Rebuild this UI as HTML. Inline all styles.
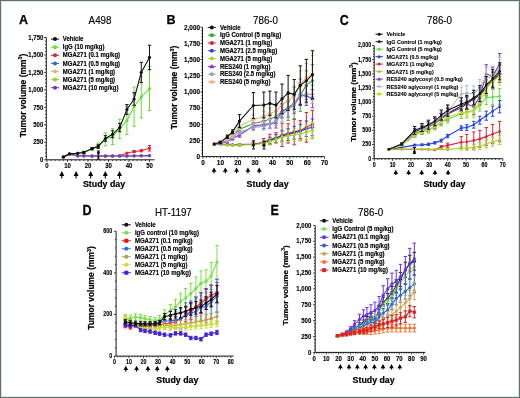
<!DOCTYPE html>
<html><head><meta charset="utf-8"><style>
html,body{margin:0;padding:0;background:#fff;width:520px;height:398px;overflow:hidden;position:relative}
text{font-family:"Liberation Sans", sans-serif}
</style></head><body>
<div style="position:absolute;left:0;top:0;width:520px;height:398px;will-change:transform">
<svg width="520" height="398" viewBox="0 0 520 398" style="position:absolute;left:0;top:0;font-family:&quot;Liberation Sans&quot;, sans-serif">
<rect x="0" y="0" width="520" height="398" fill="#fff"/>
<path d="M83.87 151.27V152.95M82.17 151.27H85.57M82.17 152.95H85.57M92.07 147.43V150.23M90.37 147.43H93.77M90.37 150.23H93.77M98.22 143.10V148.69M96.52 143.10H99.92M96.52 148.69H99.92M105.39 132.76V145.89M103.69 132.76H107.09M103.69 145.89H107.09M112.57 128.56V144.50M110.87 128.56H114.27M110.87 144.50H114.27M119.74 119.27V138.56M118.04 119.27H121.44M118.04 138.56H121.44M126.92 106.62V134.57M125.22 106.62H128.62M125.22 134.57H128.62M134.09 87.12V126.26M132.39 87.12H135.79M132.39 126.26H135.79M141.27 75.94V117.87M139.57 75.94H142.97M139.57 117.87H142.97M149.47 66.58V110.60M147.77 66.58H151.17M147.77 110.60H151.17" fill="none" stroke="#66dd33" stroke-width="1.0"/>
<polyline points="63.37,157.00 69.52,154.00 77.72,153.09 83.87,152.11 92.07,148.83 98.22,145.89 105.39,139.33 112.57,136.53 119.74,128.91 126.92,120.60 134.09,106.69 141.27,96.91 149.47,88.59" fill="none" stroke="#66dd33" stroke-width="1.1"/>
<circle cx="63.37" cy="157.00" r="1.60" fill="#66dd33"/>
<circle cx="69.52" cy="154.00" r="1.60" fill="#66dd33"/>
<circle cx="77.72" cy="153.09" r="1.60" fill="#66dd33"/>
<circle cx="83.87" cy="152.11" r="1.60" fill="#66dd33"/>
<circle cx="92.07" cy="148.83" r="1.60" fill="#66dd33"/>
<circle cx="98.22" cy="145.89" r="1.60" fill="#66dd33"/>
<circle cx="105.39" cy="139.33" r="1.60" fill="#66dd33"/>
<circle cx="112.57" cy="136.53" r="1.60" fill="#66dd33"/>
<circle cx="119.74" cy="128.91" r="1.60" fill="#66dd33"/>
<circle cx="126.92" cy="120.60" r="1.60" fill="#66dd33"/>
<circle cx="134.09" cy="106.69" r="1.60" fill="#66dd33"/>
<circle cx="141.27" cy="96.91" r="1.60" fill="#66dd33"/>
<circle cx="149.47" cy="88.59" r="1.60" fill="#66dd33"/>
<path d="M134.09 150.51V152.60M132.39 150.51H135.79M132.39 152.60H135.79M141.27 149.67V151.76M139.57 149.67H142.97M139.57 151.76H142.97M149.47 145.40V151.00M147.77 145.40H151.17M147.77 151.00H151.17" fill="none" stroke="#e02233" stroke-width="1.0"/>
<polyline points="63.37,157.00 69.52,154.21 77.72,155.82 83.87,155.82 92.07,156.03 98.22,156.03 105.39,156.03 112.57,155.96 119.74,155.47 126.92,153.16 134.09,151.55 141.27,150.72 149.47,148.20" fill="none" stroke="#e02233" stroke-width="1.1"/>
<circle cx="63.37" cy="157.00" r="1.60" fill="#e02233"/>
<circle cx="69.52" cy="154.21" r="1.60" fill="#e02233"/>
<circle cx="77.72" cy="155.82" r="1.60" fill="#e02233"/>
<circle cx="83.87" cy="155.82" r="1.60" fill="#e02233"/>
<circle cx="92.07" cy="156.03" r="1.60" fill="#e02233"/>
<circle cx="98.22" cy="156.03" r="1.60" fill="#e02233"/>
<circle cx="105.39" cy="156.03" r="1.60" fill="#e02233"/>
<circle cx="112.57" cy="155.96" r="1.60" fill="#e02233"/>
<circle cx="119.74" cy="155.47" r="1.60" fill="#e02233"/>
<circle cx="126.92" cy="153.16" r="1.60" fill="#e02233"/>
<circle cx="134.09" cy="151.55" r="1.60" fill="#e02233"/>
<circle cx="141.27" cy="150.72" r="1.60" fill="#e02233"/>
<circle cx="149.47" cy="148.20" r="1.60" fill="#e02233"/>
<polyline points="63.37,157.00 69.52,154.21 77.72,155.82 83.87,155.82 92.07,156.03 98.22,156.03 105.39,156.03 112.57,156.03 119.74,155.96 126.92,155.96 134.09,155.82 141.27,155.82 149.47,155.75" fill="none" stroke="#3366cc" stroke-width="1.1"/>
<circle cx="63.37" cy="157.00" r="1.60" fill="#3366cc"/>
<circle cx="69.52" cy="154.21" r="1.60" fill="#3366cc"/>
<circle cx="77.72" cy="155.82" r="1.60" fill="#3366cc"/>
<circle cx="83.87" cy="155.82" r="1.60" fill="#3366cc"/>
<circle cx="92.07" cy="156.03" r="1.60" fill="#3366cc"/>
<circle cx="98.22" cy="156.03" r="1.60" fill="#3366cc"/>
<circle cx="105.39" cy="156.03" r="1.60" fill="#3366cc"/>
<circle cx="112.57" cy="156.03" r="1.60" fill="#3366cc"/>
<circle cx="119.74" cy="155.96" r="1.60" fill="#3366cc"/>
<circle cx="126.92" cy="155.96" r="1.60" fill="#3366cc"/>
<circle cx="134.09" cy="155.82" r="1.60" fill="#3366cc"/>
<circle cx="141.27" cy="155.82" r="1.60" fill="#3366cc"/>
<circle cx="149.47" cy="155.75" r="1.60" fill="#3366cc"/>
<polyline points="63.37,157.00 69.52,154.21 77.72,155.82 83.87,155.82 92.07,156.03 98.22,156.03 105.39,156.03 112.57,156.03 119.74,155.96 126.92,155.96 134.09,155.82 141.27,155.82 149.47,155.75" fill="none" stroke="#f0b070" stroke-width="1.1"/>
<circle cx="63.37" cy="157.00" r="1.60" fill="#f0b070"/>
<circle cx="69.52" cy="154.21" r="1.60" fill="#f0b070"/>
<circle cx="77.72" cy="155.82" r="1.60" fill="#f0b070"/>
<circle cx="83.87" cy="155.82" r="1.60" fill="#f0b070"/>
<circle cx="92.07" cy="156.03" r="1.60" fill="#f0b070"/>
<circle cx="98.22" cy="156.03" r="1.60" fill="#f0b070"/>
<circle cx="105.39" cy="156.03" r="1.60" fill="#f0b070"/>
<circle cx="112.57" cy="156.03" r="1.60" fill="#f0b070"/>
<circle cx="119.74" cy="155.96" r="1.60" fill="#f0b070"/>
<circle cx="126.92" cy="155.96" r="1.60" fill="#f0b070"/>
<circle cx="134.09" cy="155.82" r="1.60" fill="#f0b070"/>
<circle cx="141.27" cy="155.82" r="1.60" fill="#f0b070"/>
<circle cx="149.47" cy="155.75" r="1.60" fill="#f0b070"/>
<polyline points="63.37,157.00 69.52,154.21 77.72,155.82 83.87,155.82 92.07,156.03 98.22,156.03 105.39,156.03 112.57,156.03 119.74,155.96 126.92,155.96 134.09,155.82 141.27,155.82 149.47,155.75" fill="none" stroke="#99cc33" stroke-width="1.1"/>
<circle cx="63.37" cy="157.00" r="1.60" fill="#99cc33"/>
<circle cx="69.52" cy="154.21" r="1.60" fill="#99cc33"/>
<circle cx="77.72" cy="155.82" r="1.60" fill="#99cc33"/>
<circle cx="83.87" cy="155.82" r="1.60" fill="#99cc33"/>
<circle cx="92.07" cy="156.03" r="1.60" fill="#99cc33"/>
<circle cx="98.22" cy="156.03" r="1.60" fill="#99cc33"/>
<circle cx="105.39" cy="156.03" r="1.60" fill="#99cc33"/>
<circle cx="112.57" cy="156.03" r="1.60" fill="#99cc33"/>
<circle cx="119.74" cy="155.96" r="1.60" fill="#99cc33"/>
<circle cx="126.92" cy="155.96" r="1.60" fill="#99cc33"/>
<circle cx="134.09" cy="155.82" r="1.60" fill="#99cc33"/>
<circle cx="141.27" cy="155.82" r="1.60" fill="#99cc33"/>
<circle cx="149.47" cy="155.75" r="1.60" fill="#99cc33"/>
<polyline points="63.37,156.93 69.52,154.00 77.72,155.82 83.87,155.82 92.07,156.03 98.22,156.03 105.39,156.03 112.57,156.03 119.74,155.96 126.92,155.96 134.09,155.75 141.27,155.75 149.47,155.61" fill="none" stroke="#7733cc" stroke-width="1.1"/>
<circle cx="63.37" cy="156.93" r="1.60" fill="#7733cc"/>
<circle cx="69.52" cy="154.00" r="1.60" fill="#7733cc"/>
<circle cx="77.72" cy="155.82" r="1.60" fill="#7733cc"/>
<circle cx="83.87" cy="155.82" r="1.60" fill="#7733cc"/>
<circle cx="92.07" cy="156.03" r="1.60" fill="#7733cc"/>
<circle cx="98.22" cy="156.03" r="1.60" fill="#7733cc"/>
<circle cx="105.39" cy="156.03" r="1.60" fill="#7733cc"/>
<circle cx="112.57" cy="156.03" r="1.60" fill="#7733cc"/>
<circle cx="119.74" cy="155.96" r="1.60" fill="#7733cc"/>
<circle cx="126.92" cy="155.96" r="1.60" fill="#7733cc"/>
<circle cx="134.09" cy="155.75" r="1.60" fill="#7733cc"/>
<circle cx="141.27" cy="155.75" r="1.60" fill="#7733cc"/>
<circle cx="149.47" cy="155.61" r="1.60" fill="#7733cc"/>
<path d="M83.87 151.62V153.30M82.17 151.62H85.57M82.17 153.30H85.57M92.07 147.57V149.67M90.37 147.57H93.77M90.37 149.67H93.77M98.22 144.78V148.27M96.52 144.78H99.92M96.52 148.27H99.92M105.39 135.69V141.28M103.69 135.69H107.09M103.69 141.28H107.09M112.57 130.80V137.79M110.87 130.80H114.27M110.87 137.79H114.27M119.74 123.32V131.71M118.04 123.32H121.44M118.04 131.71H121.44M126.92 104.59V114.38M125.22 104.59H128.62M125.22 114.38H128.62M134.09 92.72V105.29M132.39 92.72H135.79M132.39 105.29H135.79M141.27 62.32V82.58M139.57 62.32H142.97M139.57 82.58H142.97M149.47 45.20V69.65M147.77 45.20H151.17M147.77 69.65H151.17" fill="none" stroke="#111111" stroke-width="1.0"/>
<polyline points="63.37,157.00 69.52,153.86 77.72,153.37 83.87,152.46 92.07,148.62 98.22,146.52 105.39,138.49 112.57,134.29 119.74,127.52 126.92,109.49 134.09,99.00 141.27,72.45 149.47,57.43" fill="none" stroke="#111111" stroke-width="1.1"/>
<circle cx="63.37" cy="157.00" r="1.60" fill="#111111"/>
<circle cx="69.52" cy="153.86" r="1.60" fill="#111111"/>
<circle cx="77.72" cy="153.37" r="1.60" fill="#111111"/>
<circle cx="83.87" cy="152.46" r="1.60" fill="#111111"/>
<circle cx="92.07" cy="148.62" r="1.60" fill="#111111"/>
<circle cx="98.22" cy="146.52" r="1.60" fill="#111111"/>
<circle cx="105.39" cy="138.49" r="1.60" fill="#111111"/>
<circle cx="112.57" cy="134.29" r="1.60" fill="#111111"/>
<circle cx="119.74" cy="127.52" r="1.60" fill="#111111"/>
<circle cx="126.92" cy="109.49" r="1.60" fill="#111111"/>
<circle cx="134.09" cy="99.00" r="1.60" fill="#111111"/>
<circle cx="141.27" cy="72.45" r="1.60" fill="#111111"/>
<circle cx="149.47" cy="57.43" r="1.60" fill="#111111"/>
<path d="M46.30 37.51V159.80H154.59" fill="none" stroke="#000" stroke-width="0.9"/>
<text transform="translate(43.30 161.96) scale(0.8929 1)" font-size="6.720" font-weight="bold" text-anchor="end" fill="#000" stroke="#000" stroke-width="0.12" >0</text>
<text transform="translate(43.30 144.49) scale(0.8929 1)" font-size="6.720" font-weight="bold" text-anchor="end" fill="#000" stroke="#000" stroke-width="0.12" >250</text>
<text transform="translate(43.30 127.02) scale(0.8929 1)" font-size="6.720" font-weight="bold" text-anchor="end" fill="#000" stroke="#000" stroke-width="0.12" >500</text>
<text transform="translate(43.30 109.55) scale(0.8929 1)" font-size="6.720" font-weight="bold" text-anchor="end" fill="#000" stroke="#000" stroke-width="0.12" >750</text>
<text transform="translate(43.30 92.08) scale(0.8929 1)" font-size="6.720" font-weight="bold" text-anchor="end" fill="#000" stroke="#000" stroke-width="0.12" >1,000</text>
<text transform="translate(43.30 74.61) scale(0.8929 1)" font-size="6.720" font-weight="bold" text-anchor="end" fill="#000" stroke="#000" stroke-width="0.12" >1,250</text>
<text transform="translate(43.30 57.14) scale(0.8929 1)" font-size="6.720" font-weight="bold" text-anchor="end" fill="#000" stroke="#000" stroke-width="0.12" >1,500</text>
<text transform="translate(43.30 39.67) scale(0.8929 1)" font-size="6.720" font-weight="bold" text-anchor="end" fill="#000" stroke="#000" stroke-width="0.12" >1,750</text>
<text transform="translate(46.97 168.26) scale(0.8929 1)" font-size="6.720" font-weight="bold" text-anchor="middle" fill="#000" stroke="#000" stroke-width="0.12" >0</text>
<text transform="translate(67.47 168.26) scale(0.8929 1)" font-size="6.720" font-weight="bold" text-anchor="middle" fill="#000" stroke="#000" stroke-width="0.12" >10</text>
<text transform="translate(87.97 168.26) scale(0.8929 1)" font-size="6.720" font-weight="bold" text-anchor="middle" fill="#000" stroke="#000" stroke-width="0.12" >20</text>
<text transform="translate(108.47 168.26) scale(0.8929 1)" font-size="6.720" font-weight="bold" text-anchor="middle" fill="#000" stroke="#000" stroke-width="0.12" >30</text>
<text transform="translate(128.97 168.26) scale(0.8929 1)" font-size="6.720" font-weight="bold" text-anchor="middle" fill="#000" stroke="#000" stroke-width="0.12" >40</text>
<text transform="translate(149.47 168.26) scale(0.8929 1)" font-size="6.720" font-weight="bold" text-anchor="middle" fill="#000" stroke="#000" stroke-width="0.12" >50</text>
<path d="M44.10 159.80H46.30 M45.10 156.31H46.30 M45.10 152.81H46.30 M45.10 149.32H46.30 M45.10 145.82H46.30 M44.10 142.33H46.30 M45.10 138.84H46.30 M45.10 135.34H46.30 M45.10 131.85H46.30 M45.10 128.35H46.30 M44.10 124.86H46.30 M45.10 121.37H46.30 M45.10 117.87H46.30 M45.10 114.38H46.30 M45.10 110.88H46.30 M44.10 107.39H46.30 M45.10 103.90H46.30 M45.10 100.40H46.30 M45.10 96.91H46.30 M45.10 93.41H46.30 M44.10 89.92H46.30 M45.10 86.43H46.30 M45.10 82.93H46.30 M45.10 79.44H46.30 M45.10 75.94H46.30 M44.10 72.45H46.30 M45.10 68.96H46.30 M45.10 65.46H46.30 M45.10 61.97H46.30 M45.10 58.47H46.30 M44.10 54.98H46.30 M45.10 51.49H46.30 M45.10 47.99H46.30 M45.10 44.50H46.30 M45.10 41.00H46.30 M44.10 37.51H46.30 M46.97 159.80V162.00 M51.07 159.80V161.00 M55.17 159.80V161.00 M59.27 159.80V161.00 M63.37 159.80V161.00 M67.47 159.80V162.00 M71.57 159.80V161.00 M75.67 159.80V161.00 M79.77 159.80V161.00 M83.87 159.80V161.00 M87.97 159.80V162.00 M92.07 159.80V161.00 M96.17 159.80V161.00 M100.27 159.80V161.00 M104.37 159.80V161.00 M108.47 159.80V162.00 M112.57 159.80V161.00 M116.67 159.80V161.00 M120.77 159.80V161.00 M124.87 159.80V161.00 M128.97 159.80V162.00 M133.07 159.80V161.00 M137.17 159.80V161.00 M141.27 159.80V161.00 M145.37 159.80V161.00 M149.47 159.80V162.00" fill="none" stroke="#000" stroke-width="0.7"/>
<text x="19.00" y="24.40" font-size="12.5" font-weight="bold" text-anchor="start" fill="#000" stroke="#000" stroke-width="0.25" >A</text>
<text transform="translate(88.60 23.70) scale(0.8696 1)" font-size="11.270" font-weight="normal" text-anchor="start" fill="#000" stroke="#000" stroke-width="0.15" >A498</text>
<text transform="translate(25.54 95.50) rotate(-90)" font-size="8.45" font-weight="bold" text-anchor="middle" stroke="#000" stroke-width="0.2">Tumor volume (mm<tspan font-size="5.24" dy="-3.21">3</tspan><tspan dy="3.21">)</tspan></text>
<text x="83.00" y="186.60" font-size="8.8" font-weight="bold" text-anchor="start" fill="#000" stroke="#000" stroke-width="0.2" >Study day</text>
<path d="M59.30 176.00L61.80 171.10L64.30 176.00Z" fill="#000"/>
<path d="M61.80 175.50V178.60" stroke="#000" stroke-width="1.1"/>
<path d="M73.60 176.00L76.10 171.10L78.60 176.00Z" fill="#000"/>
<path d="M76.10 175.50V178.60" stroke="#000" stroke-width="1.1"/>
<path d="M88.20 176.00L90.70 171.10L93.20 176.00Z" fill="#000"/>
<path d="M90.70 175.50V178.60" stroke="#000" stroke-width="1.1"/>
<path d="M102.80 176.00L105.30 171.10L107.80 176.00Z" fill="#000"/>
<path d="M105.30 175.50V178.60" stroke="#000" stroke-width="1.1"/>
<path d="M117.00 176.00L119.50 171.10L122.00 176.00Z" fill="#000"/>
<path d="M119.50 175.50V178.60" stroke="#000" stroke-width="1.1"/>
<path d="M51.00 39.10H59.00" stroke="#111111" stroke-width="1"/>
<circle cx="55.00" cy="39.10" r="2.00" fill="#111111"/>
<text transform="translate(62.80 41.26) scale(0.9434 1)" font-size="6.360" font-weight="bold" text-anchor="start" fill="#000" stroke="#000" stroke-width="0.15" >Vehicle</text>
<path d="M51.00 47.20H59.00" stroke="#66dd33" stroke-width="1"/>
<circle cx="55.00" cy="47.20" r="2.00" fill="#66dd33"/>
<text transform="translate(62.80 49.36) scale(0.9434 1)" font-size="6.360" font-weight="bold" text-anchor="start" fill="#000" stroke="#000" stroke-width="0.15" >IgG (10 mg/kg)</text>
<path d="M51.00 55.30H59.00" stroke="#e02233" stroke-width="1"/>
<circle cx="55.00" cy="55.30" r="2.00" fill="#e02233"/>
<text transform="translate(62.80 57.46) scale(0.9434 1)" font-size="6.360" font-weight="bold" text-anchor="start" fill="#000" stroke="#000" stroke-width="0.15" >MGA271 (0.1 mg/kg)</text>
<path d="M51.00 63.40H59.00" stroke="#3366cc" stroke-width="1"/>
<circle cx="55.00" cy="63.40" r="2.00" fill="#3366cc"/>
<text transform="translate(62.80 65.56) scale(0.9434 1)" font-size="6.360" font-weight="bold" text-anchor="start" fill="#000" stroke="#000" stroke-width="0.15" >MGA271 (0.5 mg/kg)</text>
<path d="M51.00 71.50H59.00" stroke="#f0b070" stroke-width="1"/>
<circle cx="55.00" cy="71.50" r="2.00" fill="#f0b070"/>
<text transform="translate(62.80 73.66) scale(0.9434 1)" font-size="6.360" font-weight="bold" text-anchor="start" fill="#000" stroke="#000" stroke-width="0.15" >MGA271 (1 mg/kg)</text>
<path d="M51.00 79.60H59.00" stroke="#99cc33" stroke-width="1"/>
<circle cx="55.00" cy="79.60" r="2.00" fill="#99cc33"/>
<text transform="translate(62.80 81.76) scale(0.9434 1)" font-size="6.360" font-weight="bold" text-anchor="start" fill="#000" stroke="#000" stroke-width="0.15" >MGA271 (5 mg/kg)</text>
<path d="M51.00 87.70H59.00" stroke="#7733cc" stroke-width="1"/>
<circle cx="55.00" cy="87.70" r="2.00" fill="#7733cc"/>
<text transform="translate(62.80 89.86) scale(0.9434 1)" font-size="6.360" font-weight="bold" text-anchor="start" fill="#000" stroke="#000" stroke-width="0.15" >MGA271 (10 mg/kg)</text>
<path d="M220.37 142.37V144.31M218.67 142.37H222.07M218.67 144.31H222.07M227.32 139.13V141.72M225.62 139.13H229.02M225.62 141.72H229.02M232.53 133.31V137.19M230.83 133.31H234.23M230.83 137.19H234.23M239.48 126.71V131.88M237.78 126.71H241.18M237.78 131.88H241.18M253.37 119.72V127.48M251.67 119.72H255.07M251.67 127.48H255.07M263.80 117.39V125.16M262.10 117.39H265.50M262.10 125.16H265.50M269.87 114.54V123.60M268.17 114.54H271.57M268.17 123.60H271.57M275.95 111.63V121.99M274.25 111.63H277.65M274.25 121.99H277.65M282.03 104.84V117.78M280.33 104.84H283.73M280.33 117.78H283.73M288.11 94.49V120.37M286.41 94.49H289.81M286.41 120.37H289.81M294.19 87.11V119.46M292.49 87.11H295.89M292.49 119.46H295.89M300.27 78.96V111.31M298.57 78.96H301.97M298.57 111.31H301.97M306.35 70.94V99.41M304.65 70.94H308.05M304.65 99.41H308.05M312.43 64.60V96.95M310.73 64.60H314.13M310.73 96.95H314.13" fill="none" stroke="#33aa33" stroke-width="1.0"/>
<polyline points="214.29,143.98 220.37,143.34 227.32,140.42 232.53,135.25 239.48,129.30 253.37,123.60 263.80,121.27 269.87,119.07 275.95,116.81 282.03,111.31 288.11,107.43 294.19,103.29 300.27,95.13 306.35,85.17 312.43,80.77" fill="none" stroke="#33aa33" stroke-width="1.1"/>
<circle cx="214.29" cy="143.98" r="1.60" fill="#33aa33"/>
<circle cx="220.37" cy="143.34" r="1.60" fill="#33aa33"/>
<circle cx="227.32" cy="140.42" r="1.60" fill="#33aa33"/>
<circle cx="232.53" cy="135.25" r="1.60" fill="#33aa33"/>
<circle cx="239.48" cy="129.30" r="1.60" fill="#33aa33"/>
<circle cx="253.37" cy="123.60" r="1.60" fill="#33aa33"/>
<circle cx="263.80" cy="121.27" r="1.60" fill="#33aa33"/>
<circle cx="269.87" cy="119.07" r="1.60" fill="#33aa33"/>
<circle cx="275.95" cy="116.81" r="1.60" fill="#33aa33"/>
<circle cx="282.03" cy="111.31" r="1.60" fill="#33aa33"/>
<circle cx="288.11" cy="107.43" r="1.60" fill="#33aa33"/>
<circle cx="294.19" cy="103.29" r="1.60" fill="#33aa33"/>
<circle cx="300.27" cy="95.13" r="1.60" fill="#33aa33"/>
<circle cx="306.35" cy="85.17" r="1.60" fill="#33aa33"/>
<circle cx="312.43" cy="80.77" r="1.60" fill="#33aa33"/>
<path d="M239.48 143.66V145.60M237.78 143.66H241.18M237.78 145.60H241.18M253.37 142.04V145.92M251.67 142.04H255.07M251.67 145.92H255.07M263.80 138.55V146.31M262.10 138.55H265.50M262.10 146.31H265.50M269.87 134.21V144.57M268.17 134.21H271.57M268.17 144.57H271.57M275.95 132.73V143.08M274.25 132.73H277.65M274.25 143.08H277.65M282.03 123.28V146.57M280.33 123.28H283.73M280.33 146.57H283.73M288.11 123.67V143.08M286.41 123.67H289.81M286.41 143.08H289.81M294.19 118.94V144.82M292.49 118.94H295.89M292.49 144.82H295.89M300.27 120.69V140.10M298.57 120.69H301.97M298.57 140.10H301.97M306.35 112.47V142.24M304.65 112.47H308.05M304.65 142.24H308.05M312.43 110.34V138.29M310.73 110.34H314.13M310.73 138.29H314.13" fill="none" stroke="#dd2222" stroke-width="1.0"/>
<polyline points="214.29,143.98 220.37,144.31 227.32,144.63 232.53,144.82 239.48,144.63 253.37,143.98 263.80,142.43 269.87,139.39 275.95,137.90 282.03,134.93 288.11,133.37 294.19,131.88 300.27,130.40 306.35,127.36 312.43,124.31" fill="none" stroke="#dd2222" stroke-width="1.1"/>
<circle cx="214.29" cy="143.98" r="1.60" fill="#dd2222"/>
<circle cx="220.37" cy="144.31" r="1.60" fill="#dd2222"/>
<circle cx="227.32" cy="144.63" r="1.60" fill="#dd2222"/>
<circle cx="232.53" cy="144.82" r="1.60" fill="#dd2222"/>
<circle cx="239.48" cy="144.63" r="1.60" fill="#dd2222"/>
<circle cx="253.37" cy="143.98" r="1.60" fill="#dd2222"/>
<circle cx="263.80" cy="142.43" r="1.60" fill="#dd2222"/>
<circle cx="269.87" cy="139.39" r="1.60" fill="#dd2222"/>
<circle cx="275.95" cy="137.90" r="1.60" fill="#dd2222"/>
<circle cx="282.03" cy="134.93" r="1.60" fill="#dd2222"/>
<circle cx="288.11" cy="133.37" r="1.60" fill="#dd2222"/>
<circle cx="294.19" cy="131.88" r="1.60" fill="#dd2222"/>
<circle cx="300.27" cy="130.40" r="1.60" fill="#dd2222"/>
<circle cx="306.35" cy="127.36" r="1.60" fill="#dd2222"/>
<circle cx="312.43" cy="124.31" r="1.60" fill="#dd2222"/>
<path d="M239.48 143.85V145.80M237.78 143.85H241.18M237.78 145.80H241.18M253.37 142.69V145.92M251.67 142.69H255.07M251.67 145.92H255.07M263.80 140.43V145.60M262.10 140.43H265.50M262.10 145.60H265.50M269.87 137.19V143.66M268.17 137.19H271.57M268.17 143.66H271.57M275.95 134.60V142.37M274.25 134.60H277.65M274.25 142.37H277.65M282.03 130.72V141.07M280.33 130.72H283.73M280.33 141.07H283.73M288.11 128.78V140.43M286.41 128.78H289.81M286.41 140.43H289.81M294.19 126.19V139.13M292.49 126.19H295.89M292.49 139.13H295.89M300.27 124.25V138.48M298.57 124.25H301.97M298.57 138.48H301.97M306.35 121.02V136.54M304.65 121.02H308.05M304.65 136.54H308.05M312.43 118.94V135.77M310.73 118.94H314.13M310.73 135.77H314.13" fill="none" stroke="#3344dd" stroke-width="1.0"/>
<polyline points="214.29,143.98 220.37,144.44 227.32,144.82 232.53,144.95 239.48,144.82 253.37,144.31 263.80,143.01 269.87,140.42 275.95,138.48 282.03,135.90 288.11,134.60 294.19,132.66 300.27,131.37 306.35,128.78 312.43,127.36" fill="none" stroke="#3344dd" stroke-width="1.1"/>
<circle cx="214.29" cy="143.98" r="1.60" fill="#3344dd"/>
<circle cx="220.37" cy="144.44" r="1.60" fill="#3344dd"/>
<circle cx="227.32" cy="144.82" r="1.60" fill="#3344dd"/>
<circle cx="232.53" cy="144.95" r="1.60" fill="#3344dd"/>
<circle cx="239.48" cy="144.82" r="1.60" fill="#3344dd"/>
<circle cx="253.37" cy="144.31" r="1.60" fill="#3344dd"/>
<circle cx="263.80" cy="143.01" r="1.60" fill="#3344dd"/>
<circle cx="269.87" cy="140.42" r="1.60" fill="#3344dd"/>
<circle cx="275.95" cy="138.48" r="1.60" fill="#3344dd"/>
<circle cx="282.03" cy="135.90" r="1.60" fill="#3344dd"/>
<circle cx="288.11" cy="134.60" r="1.60" fill="#3344dd"/>
<circle cx="294.19" cy="132.66" r="1.60" fill="#3344dd"/>
<circle cx="300.27" cy="131.37" r="1.60" fill="#3344dd"/>
<circle cx="306.35" cy="128.78" r="1.60" fill="#3344dd"/>
<circle cx="312.43" cy="127.36" r="1.60" fill="#3344dd"/>
<path d="M239.48 143.98V145.92M237.78 143.98H241.18M237.78 145.92H241.18M253.37 143.01V146.25M251.67 143.01H255.07M251.67 146.25H255.07M263.80 141.07V146.25M262.10 141.07H265.50M262.10 146.25H265.50M269.87 138.48V144.95M268.17 138.48H271.57M268.17 144.95H271.57M275.95 135.90V143.66M274.25 135.90H277.65M274.25 143.66H277.65M282.03 132.01V142.37M280.33 132.01H283.73M280.33 142.37H283.73M288.11 130.07V141.72M286.41 130.07H289.81M286.41 141.72H289.81M294.19 128.52V141.46M292.49 128.52H295.89M292.49 141.46H295.89M300.27 126.84V141.07M298.57 126.84H301.97M298.57 141.07H301.97M306.35 124.25V139.78M304.65 124.25H308.05M304.65 139.78H308.05M312.43 121.92V138.74M310.73 121.92H314.13M310.73 138.74H314.13" fill="none" stroke="#aad422" stroke-width="1.0"/>
<polyline points="214.29,143.98 220.37,144.63 227.32,144.95 232.53,145.08 239.48,144.95 253.37,144.63 263.80,143.66 269.87,141.72 275.95,139.78 282.03,137.19 288.11,135.90 294.19,134.99 300.27,133.95 306.35,132.01 312.43,130.33" fill="none" stroke="#aad422" stroke-width="1.1"/>
<circle cx="214.29" cy="143.98" r="1.60" fill="#aad422"/>
<circle cx="220.37" cy="144.63" r="1.60" fill="#aad422"/>
<circle cx="227.32" cy="144.95" r="1.60" fill="#aad422"/>
<circle cx="232.53" cy="145.08" r="1.60" fill="#aad422"/>
<circle cx="239.48" cy="144.95" r="1.60" fill="#aad422"/>
<circle cx="253.37" cy="144.63" r="1.60" fill="#aad422"/>
<circle cx="263.80" cy="143.66" r="1.60" fill="#aad422"/>
<circle cx="269.87" cy="141.72" r="1.60" fill="#aad422"/>
<circle cx="275.95" cy="139.78" r="1.60" fill="#aad422"/>
<circle cx="282.03" cy="137.19" r="1.60" fill="#aad422"/>
<circle cx="288.11" cy="135.90" r="1.60" fill="#aad422"/>
<circle cx="294.19" cy="134.99" r="1.60" fill="#aad422"/>
<circle cx="300.27" cy="133.95" r="1.60" fill="#aad422"/>
<circle cx="306.35" cy="132.01" r="1.60" fill="#aad422"/>
<circle cx="312.43" cy="130.33" r="1.60" fill="#aad422"/>
<path d="M220.37 142.37V144.31M218.67 142.37H222.07M218.67 144.31H222.07M227.32 140.42V143.01M225.62 140.42H229.02M225.62 143.01H229.02M232.53 136.87V140.10M230.83 136.87H234.23M230.83 140.10H234.23M239.48 132.73V137.25M237.78 132.73H241.18M237.78 137.25H241.18M253.37 122.76V129.23M251.67 122.76H255.07M251.67 129.23H255.07M263.80 120.63V128.39M262.10 120.63H265.50M262.10 128.39H265.50M269.87 119.07V128.13M268.17 119.07H271.57M268.17 128.13H271.57M275.95 117.65V128.00M274.25 117.65H277.65M274.25 128.00H277.65M282.03 103.68V117.91M280.33 103.68H283.73M280.33 117.91H283.73M288.11 101.54V117.07M286.41 101.54H289.81M286.41 117.07H289.81M294.19 96.43V113.25M292.49 96.43H295.89M292.49 113.25H295.89M300.27 86.01V105.42M298.57 86.01H301.97M298.57 105.42H301.97M306.35 86.01V105.42M304.65 86.01H308.05M304.65 105.42H308.05M312.43 89.64V107.75M310.73 89.64H314.13M310.73 107.75H314.13" fill="none" stroke="#8833dd" stroke-width="1.0"/>
<polyline points="214.29,143.98 220.37,143.34 227.32,141.72 232.53,138.48 239.48,134.99 253.37,126.00 263.80,124.51 269.87,123.60 275.95,122.83 282.03,110.79 288.11,109.30 294.19,104.84 300.27,95.72 306.35,95.72 312.43,98.69" fill="none" stroke="#8833dd" stroke-width="1.1"/>
<path d="M212.13 145.50L214.29 142.14L216.45 145.50Z" fill="#8833dd"/>
<path d="M218.21 144.86L220.37 141.50L222.53 144.86Z" fill="#8833dd"/>
<path d="M225.16 143.24L227.32 139.88L229.48 143.24Z" fill="#8833dd"/>
<path d="M230.37 140.00L232.53 136.64L234.69 140.00Z" fill="#8833dd"/>
<path d="M237.32 136.51L239.48 133.15L241.64 136.51Z" fill="#8833dd"/>
<path d="M251.21 127.52L253.37 124.16L255.53 127.52Z" fill="#8833dd"/>
<path d="M261.63 126.03L263.80 122.67L265.96 126.03Z" fill="#8833dd"/>
<path d="M267.71 125.12L269.87 121.76L272.03 125.12Z" fill="#8833dd"/>
<path d="M273.79 124.35L275.95 120.99L278.11 124.35Z" fill="#8833dd"/>
<path d="M279.87 112.31L282.03 108.95L284.19 112.31Z" fill="#8833dd"/>
<path d="M285.95 110.82L288.11 107.46L290.27 110.82Z" fill="#8833dd"/>
<path d="M292.03 106.36L294.19 103.00L296.35 106.36Z" fill="#8833dd"/>
<path d="M298.11 97.24L300.27 93.88L302.43 97.24Z" fill="#8833dd"/>
<path d="M304.19 97.24L306.35 93.88L308.51 97.24Z" fill="#8833dd"/>
<path d="M310.27 100.21L312.43 96.85L314.59 100.21Z" fill="#8833dd"/>
<path d="M220.37 142.04V143.98M218.67 142.04H222.07M218.67 143.98H222.07M227.32 139.45V142.04M225.62 139.45H229.02M225.62 142.04H229.02M232.53 135.57V138.81M230.83 135.57H234.23M230.83 138.81H234.23M239.48 129.75V134.28M237.78 129.75H241.18M237.78 134.28H241.18M253.37 124.25V130.72M251.67 124.25H255.07M251.67 130.72H255.07M263.80 122.31V130.07M262.10 122.31H265.50M262.10 130.07H265.50M269.87 119.72V128.78M268.17 119.72H271.57M268.17 128.78H271.57M275.95 115.19V125.54M274.25 115.19H277.65M274.25 125.54H277.65M282.03 107.43V121.66M280.33 107.43H283.73M280.33 121.66H283.73M288.11 102.25V117.78M286.41 102.25H289.81M286.41 117.78H289.81M294.19 94.88V111.70M292.49 94.88H295.89M292.49 111.70H295.89M300.27 84.52V103.93M298.57 84.52H301.97M298.57 103.93H301.97M306.35 84.52V103.93M304.65 84.52H308.05M304.65 103.93H308.05M312.43 85.17V103.29M310.73 85.17H314.13M310.73 103.29H314.13" fill="none" stroke="#90a2c6" stroke-width="1.0"/>
<polyline points="214.29,143.98 220.37,143.01 227.32,140.75 232.53,137.19 239.48,132.01 253.37,127.48 263.80,126.19 269.87,124.25 275.95,120.37 282.03,114.54 288.11,110.02 294.19,103.29 300.27,94.23 306.35,94.23 312.43,94.23" fill="none" stroke="#90a2c6" stroke-width="1.1"/>
<path d="M211.89 143.98L214.29 142.22L216.69 143.98L214.29 145.74Z" fill="#90a2c6"/>
<path d="M217.97 143.01L220.37 141.25L222.77 143.01L220.37 144.77Z" fill="#90a2c6"/>
<path d="M224.92 140.75L227.32 138.99L229.72 140.75L227.32 142.51Z" fill="#90a2c6"/>
<path d="M230.13 137.19L232.53 135.43L234.93 137.19L232.53 138.95Z" fill="#90a2c6"/>
<path d="M237.08 132.01L239.48 130.25L241.88 132.01L239.48 133.77Z" fill="#90a2c6"/>
<path d="M250.97 127.48L253.37 125.72L255.77 127.48L253.37 129.24Z" fill="#90a2c6"/>
<path d="M261.40 126.19L263.80 124.43L266.19 126.19L263.80 127.95Z" fill="#90a2c6"/>
<path d="M267.47 124.25L269.87 122.49L272.27 124.25L269.87 126.01Z" fill="#90a2c6"/>
<path d="M273.55 120.37L275.95 118.61L278.35 120.37L275.95 122.13Z" fill="#90a2c6"/>
<path d="M279.63 114.54L282.03 112.78L284.43 114.54L282.03 116.30Z" fill="#90a2c6"/>
<path d="M285.71 110.02L288.11 108.26L290.51 110.02L288.11 111.78Z" fill="#90a2c6"/>
<path d="M291.79 103.29L294.19 101.53L296.59 103.29L294.19 105.05Z" fill="#90a2c6"/>
<path d="M297.87 94.23L300.27 92.47L302.67 94.23L300.27 95.99Z" fill="#90a2c6"/>
<path d="M303.95 94.23L306.35 92.47L308.75 94.23L306.35 95.99Z" fill="#90a2c6"/>
<path d="M310.03 94.23L312.43 92.47L314.83 94.23L312.43 95.99Z" fill="#90a2c6"/>
<path d="M220.37 140.42V143.01M218.67 140.42H222.07M218.67 143.01H222.07M227.32 137.51V140.75M225.62 137.51H229.02M225.62 140.75H229.02M232.53 133.31V137.19M230.83 133.31H234.23M230.83 137.19H234.23M239.48 122.76V129.23M237.78 122.76H241.18M237.78 129.23H241.18M253.37 115.00V124.06M251.67 115.00H255.07M251.67 124.06H255.07M263.80 111.31V121.66M262.10 111.31H265.50M262.10 121.66H265.50M269.87 107.95V119.59M268.17 107.95H271.57M268.17 119.59H271.57M275.95 104.52V117.46M274.25 104.52H277.65M274.25 117.46H277.65M282.03 97.92V112.15M280.33 97.92H283.73M280.33 112.15H283.73M288.11 92.03V108.85M286.41 92.03H289.81M286.41 108.85H289.81M294.19 86.21V105.62M292.49 86.21H295.89M292.49 105.62H295.89M300.27 70.87V96.75M298.57 70.87H301.97M298.57 96.75H301.97M306.35 63.56V92.03M304.65 63.56H308.05M304.65 92.03H308.05M312.43 55.28V94.10M310.73 55.28H314.13M310.73 94.10H314.13" fill="none" stroke="#eab48a" stroke-width="1.0"/>
<polyline points="214.29,143.98 220.37,141.72 227.32,139.13 232.53,135.25 239.48,126.00 253.37,119.53 263.80,116.49 269.87,113.77 275.95,110.99 282.03,105.03 288.11,100.44 294.19,95.91 300.27,83.81 306.35,77.80 312.43,74.69" fill="none" stroke="#eab48a" stroke-width="1.1"/>
<path d="M211.89 143.98L214.29 142.22L216.69 143.98L214.29 145.74Z" fill="#eab48a"/>
<path d="M217.97 141.72L220.37 139.96L222.77 141.72L220.37 143.48Z" fill="#eab48a"/>
<path d="M224.92 139.13L227.32 137.37L229.72 139.13L227.32 140.89Z" fill="#eab48a"/>
<path d="M230.13 135.25L232.53 133.49L234.93 135.25L232.53 137.01Z" fill="#eab48a"/>
<path d="M237.08 126.00L239.48 124.24L241.88 126.00L239.48 127.76Z" fill="#eab48a"/>
<path d="M250.97 119.53L253.37 117.77L255.77 119.53L253.37 121.29Z" fill="#eab48a"/>
<path d="M261.40 116.49L263.80 114.73L266.19 116.49L263.80 118.25Z" fill="#eab48a"/>
<path d="M267.47 113.77L269.87 112.01L272.27 113.77L269.87 115.53Z" fill="#eab48a"/>
<path d="M273.55 110.99L275.95 109.23L278.35 110.99L275.95 112.75Z" fill="#eab48a"/>
<path d="M279.63 105.03L282.03 103.27L284.43 105.03L282.03 106.79Z" fill="#eab48a"/>
<path d="M285.71 100.44L288.11 98.68L290.51 100.44L288.11 102.20Z" fill="#eab48a"/>
<path d="M291.79 95.91L294.19 94.15L296.59 95.91L294.19 97.67Z" fill="#eab48a"/>
<path d="M297.87 83.81L300.27 82.05L302.67 83.81L300.27 85.57Z" fill="#eab48a"/>
<path d="M303.95 77.80L306.35 76.04L308.75 77.80L306.35 79.56Z" fill="#eab48a"/>
<path d="M310.03 74.69L312.43 72.93L314.83 74.69L312.43 76.45Z" fill="#eab48a"/>
<path d="M220.37 141.40V143.34M218.67 141.40H222.07M218.67 143.34H222.07M227.32 135.12V138.35M225.62 135.12H229.02M225.62 138.35H229.02M232.53 129.88V133.76M230.83 129.88H234.23M230.83 133.76H234.23M239.48 114.61V127.55M237.78 114.61H241.18M237.78 127.55H241.18M253.37 92.55V118.43M251.67 92.55H255.07M251.67 118.43H255.07M263.80 92.09V117.97M262.10 92.09H265.50M262.10 117.97H265.50M269.87 91.12V115.71M268.17 91.12H271.57M268.17 115.71H271.57M275.95 92.09V117.97M274.25 92.09H277.65M274.25 117.97H277.65M282.03 84.07V113.83M280.33 84.07H283.73M280.33 113.83H283.73M288.11 75.40V110.34M286.41 75.40H289.81M286.41 110.34H289.81M294.19 79.48V109.24M292.49 79.48H295.89M292.49 109.24H295.89M300.27 65.89V104.71M298.57 65.89H301.97M298.57 104.71H301.97M306.35 59.42V102.12M304.65 59.42H308.05M304.65 102.12H308.05M312.43 50.75V98.63M310.73 50.75H314.13M310.73 98.63H314.13" fill="none" stroke="#111111" stroke-width="1.0"/>
<polyline points="214.29,143.98 220.37,142.37 227.32,136.74 232.53,131.82 239.48,121.08 253.37,105.49 263.80,105.03 269.87,103.42 275.95,105.03 282.03,98.95 288.11,92.87 294.19,94.36 300.27,85.30 306.35,80.77 312.43,74.69" fill="none" stroke="#111111" stroke-width="1.1"/>
<circle cx="214.29" cy="143.98" r="1.60" fill="#111111"/>
<circle cx="220.37" cy="142.37" r="1.60" fill="#111111"/>
<circle cx="227.32" cy="136.74" r="1.60" fill="#111111"/>
<circle cx="232.53" cy="131.82" r="1.60" fill="#111111"/>
<circle cx="239.48" cy="121.08" r="1.60" fill="#111111"/>
<circle cx="253.37" cy="105.49" r="1.60" fill="#111111"/>
<circle cx="263.80" cy="105.03" r="1.60" fill="#111111"/>
<circle cx="269.87" cy="103.42" r="1.60" fill="#111111"/>
<circle cx="275.95" cy="105.03" r="1.60" fill="#111111"/>
<circle cx="282.03" cy="98.95" r="1.60" fill="#111111"/>
<circle cx="288.11" cy="92.87" r="1.60" fill="#111111"/>
<circle cx="294.19" cy="94.36" r="1.60" fill="#111111"/>
<circle cx="300.27" cy="85.30" r="1.60" fill="#111111"/>
<circle cx="306.35" cy="80.77" r="1.60" fill="#111111"/>
<circle cx="312.43" cy="74.69" r="1.60" fill="#111111"/>
<path d="M202.50 27.20V156.60H324.59" fill="none" stroke="#000" stroke-width="0.9"/>
<text transform="translate(200.00 158.90) scale(0.8929 1)" font-size="7.168" font-weight="bold" text-anchor="end" fill="#000" stroke="#000" stroke-width="0.12" >0</text>
<text transform="translate(200.00 142.73) scale(0.8929 1)" font-size="7.168" font-weight="bold" text-anchor="end" fill="#000" stroke="#000" stroke-width="0.12" >250</text>
<text transform="translate(200.00 126.55) scale(0.8929 1)" font-size="7.168" font-weight="bold" text-anchor="end" fill="#000" stroke="#000" stroke-width="0.12" >500</text>
<text transform="translate(200.00 110.38) scale(0.8929 1)" font-size="7.168" font-weight="bold" text-anchor="end" fill="#000" stroke="#000" stroke-width="0.12" >750</text>
<text transform="translate(200.00 94.20) scale(0.8929 1)" font-size="7.168" font-weight="bold" text-anchor="end" fill="#000" stroke="#000" stroke-width="0.12" >1,000</text>
<text transform="translate(200.00 78.03) scale(0.8929 1)" font-size="7.168" font-weight="bold" text-anchor="end" fill="#000" stroke="#000" stroke-width="0.12" >1,250</text>
<text transform="translate(200.00 61.85) scale(0.8929 1)" font-size="7.168" font-weight="bold" text-anchor="end" fill="#000" stroke="#000" stroke-width="0.12" >1,500</text>
<text transform="translate(200.00 45.68) scale(0.8929 1)" font-size="7.168" font-weight="bold" text-anchor="end" fill="#000" stroke="#000" stroke-width="0.12" >1,750</text>
<text transform="translate(200.00 29.50) scale(0.8929 1)" font-size="7.168" font-weight="bold" text-anchor="end" fill="#000" stroke="#000" stroke-width="0.12" >2,000</text>
<text transform="translate(203.00 165.20) scale(0.8929 1)" font-size="7.168" font-weight="bold" text-anchor="middle" fill="#000" stroke="#000" stroke-width="0.12" >0</text>
<text transform="translate(220.37 165.20) scale(0.8929 1)" font-size="7.168" font-weight="bold" text-anchor="middle" fill="#000" stroke="#000" stroke-width="0.12" >10</text>
<text transform="translate(237.74 165.20) scale(0.8929 1)" font-size="7.168" font-weight="bold" text-anchor="middle" fill="#000" stroke="#000" stroke-width="0.12" >20</text>
<text transform="translate(255.11 165.20) scale(0.8929 1)" font-size="7.168" font-weight="bold" text-anchor="middle" fill="#000" stroke="#000" stroke-width="0.12" >30</text>
<text transform="translate(272.48 165.20) scale(0.8929 1)" font-size="7.168" font-weight="bold" text-anchor="middle" fill="#000" stroke="#000" stroke-width="0.12" >40</text>
<text transform="translate(289.85 165.20) scale(0.8929 1)" font-size="7.168" font-weight="bold" text-anchor="middle" fill="#000" stroke="#000" stroke-width="0.12" >50</text>
<text transform="translate(307.22 165.20) scale(0.8929 1)" font-size="7.168" font-weight="bold" text-anchor="middle" fill="#000" stroke="#000" stroke-width="0.12" >60</text>
<text transform="translate(324.59 165.20) scale(0.8929 1)" font-size="7.168" font-weight="bold" text-anchor="middle" fill="#000" stroke="#000" stroke-width="0.12" >70</text>
<path d="M200.30 156.60H202.50 M201.30 153.36H202.50 M201.30 150.13H202.50 M201.30 146.89H202.50 M201.30 143.66H202.50 M200.30 140.42H202.50 M201.30 137.19H202.50 M201.30 133.95H202.50 M201.30 130.72H202.50 M201.30 127.48H202.50 M200.30 124.25H202.50 M201.30 121.01H202.50 M201.30 117.78H202.50 M201.30 114.54H202.50 M201.30 111.31H202.50 M200.30 108.07H202.50 M201.30 104.84H202.50 M201.30 101.60H202.50 M201.30 98.37H202.50 M201.30 95.13H202.50 M200.30 91.90H202.50 M201.30 88.66H202.50 M201.30 85.43H202.50 M201.30 82.19H202.50 M201.30 78.96H202.50 M200.30 75.72H202.50 M201.30 72.49H202.50 M201.30 69.25H202.50 M201.30 66.02H202.50 M201.30 62.78H202.50 M200.30 59.55H202.50 M201.30 56.31H202.50 M201.30 53.08H202.50 M201.30 49.84H202.50 M201.30 46.61H202.50 M200.30 43.37H202.50 M201.30 40.14H202.50 M201.30 36.90H202.50 M201.30 33.67H202.50 M201.30 30.43H202.50 M200.30 27.20H202.50 M203.00 156.60V158.80 M206.47 156.60V157.80 M209.95 156.60V157.80 M213.42 156.60V157.80 M216.90 156.60V157.80 M220.37 156.60V158.80 M223.84 156.60V157.80 M227.32 156.60V157.80 M230.79 156.60V157.80 M234.27 156.60V157.80 M237.74 156.60V158.80 M241.21 156.60V157.80 M244.69 156.60V157.80 M248.16 156.60V157.80 M251.64 156.60V157.80 M255.11 156.60V158.80 M258.58 156.60V157.80 M262.06 156.60V157.80 M265.53 156.60V157.80 M269.01 156.60V157.80 M272.48 156.60V158.80 M275.95 156.60V157.80 M279.43 156.60V157.80 M282.90 156.60V157.80 M286.38 156.60V157.80 M289.85 156.60V158.80 M293.32 156.60V157.80 M296.80 156.60V157.80 M300.27 156.60V157.80 M303.75 156.60V157.80 M307.22 156.60V158.80 M310.69 156.60V157.80 M314.17 156.60V157.80 M317.64 156.60V157.80 M321.12 156.60V157.80 M324.59 156.60V158.80" fill="none" stroke="#000" stroke-width="0.7"/>
<text x="166.60" y="24.20" font-size="12.5" font-weight="bold" text-anchor="start" fill="#000" stroke="#000" stroke-width="0.25" >B</text>
<text transform="translate(253.00 24.00) scale(0.8696 1)" font-size="11.270" font-weight="normal" text-anchor="start" fill="#000" stroke="#000" stroke-width="0.15" >786-0</text>
<text transform="translate(177.14 87.50) rotate(-90)" font-size="8.45" font-weight="bold" text-anchor="middle" stroke="#000" stroke-width="0.2">Tumor volume (mm<tspan font-size="5.24" dy="-3.21">3</tspan><tspan dy="3.21">)</tspan></text>
<text x="246.60" y="186.60" font-size="8.8" font-weight="bold" text-anchor="start" fill="#000" stroke="#000" stroke-width="0.2" >Study day</text>
<path d="M211.55 172.10L214.00 167.60L216.45 172.10L214.60 171.50V173.20H213.40V171.50Z" fill="#000"/>
<path d="M222.85 172.10L225.30 167.60L227.75 172.10L225.90 171.50V173.20H224.70V171.50Z" fill="#000"/>
<path d="M234.15 172.10L236.60 167.60L239.05 172.10L237.20 171.50V173.20H236.00V171.50Z" fill="#000"/>
<path d="M245.45 172.10L247.90 167.60L250.35 172.10L248.50 171.50V173.20H247.30V171.50Z" fill="#000"/>
<path d="M256.75 172.10L259.20 167.60L261.65 172.10L259.80 171.50V173.20H258.60V171.50Z" fill="#000"/>
<path d="M207.80 27.40H215.80" stroke="#111111" stroke-width="1"/>
<circle cx="211.80" cy="27.40" r="2.00" fill="#111111"/>
<text transform="translate(219.90 29.56) scale(0.9434 1)" font-size="6.360" font-weight="bold" text-anchor="start" fill="#000" stroke="#000" stroke-width="0.15" >Vehicle</text>
<path d="M207.80 35.20H215.80" stroke="#33aa33" stroke-width="1"/>
<circle cx="211.80" cy="35.20" r="2.00" fill="#33aa33"/>
<text transform="translate(219.90 37.36) scale(0.9434 1)" font-size="6.360" font-weight="bold" text-anchor="start" fill="#000" stroke="#000" stroke-width="0.15" >IgG Control (5 mg/kg)</text>
<path d="M207.80 43.00H215.80" stroke="#dd2222" stroke-width="1"/>
<circle cx="211.80" cy="43.00" r="2.00" fill="#dd2222"/>
<text transform="translate(219.90 45.16) scale(0.9434 1)" font-size="6.360" font-weight="bold" text-anchor="start" fill="#000" stroke="#000" stroke-width="0.15" >MGA271 (1 mg/kg)</text>
<path d="M207.80 50.80H215.80" stroke="#3344dd" stroke-width="1"/>
<circle cx="211.80" cy="50.80" r="2.00" fill="#3344dd"/>
<text transform="translate(219.90 52.96) scale(0.9434 1)" font-size="6.360" font-weight="bold" text-anchor="start" fill="#000" stroke="#000" stroke-width="0.15" >MGA271 (2.5 mg/kg)</text>
<path d="M207.80 58.60H215.80" stroke="#aad422" stroke-width="1"/>
<circle cx="211.80" cy="58.60" r="2.00" fill="#aad422"/>
<text transform="translate(219.90 60.76) scale(0.9434 1)" font-size="6.360" font-weight="bold" text-anchor="start" fill="#000" stroke="#000" stroke-width="0.15" >MGA271 (5 mg/kg)</text>
<path d="M207.80 66.40H215.80" stroke="#8833dd" stroke-width="1"/>
<path d="M209.10 68.30L211.80 64.10L214.50 68.30Z" fill="#8833dd"/>
<text transform="translate(219.90 68.56) scale(0.9434 1)" font-size="6.360" font-weight="bold" text-anchor="start" fill="#000" stroke="#000" stroke-width="0.15" >RES240 (1 mg/kg)</text>
<path d="M207.80 74.20H215.80" stroke="#90a2c6" stroke-width="1"/>
<path d="M208.80 74.20L211.80 72.00L214.80 74.20L211.80 76.40Z" fill="#90a2c6"/>
<text transform="translate(219.90 76.36) scale(0.9434 1)" font-size="6.360" font-weight="bold" text-anchor="start" fill="#000" stroke="#000" stroke-width="0.15" >RES240 (2.5 mg/kg)</text>
<path d="M207.80 82.00H215.80" stroke="#eab48a" stroke-width="1"/>
<path d="M208.80 82.00L211.80 79.80L214.80 82.00L211.80 84.20Z" fill="#eab48a"/>
<text transform="translate(219.90 84.16) scale(0.9434 1)" font-size="6.360" font-weight="bold" text-anchor="start" fill="#000" stroke="#000" stroke-width="0.15" >RES240 (5 mg/kg)</text>
<path d="M401.75 143.42V145.68M400.06 143.42H403.45M400.06 145.68H403.45M414.61 128.70V135.49M412.91 128.70H416.31M412.91 135.49H416.31M421.96 125.31V132.10M420.26 125.31H423.66M420.26 132.10H423.66M428.39 121.91V129.83M426.69 121.91H430.09M426.69 129.83H430.09M434.82 118.51V126.44M433.12 118.51H436.52M433.12 126.44H436.52M441.25 113.42V122.48M439.55 113.42H442.95M439.55 122.48H442.95M447.68 108.33V118.51M445.98 108.33H449.38M445.98 118.51H449.38M461.27 100.40V111.72M459.57 100.40H462.97M459.57 111.72H462.97M466.78 97.01V109.46M465.08 97.01H468.48M465.08 109.46H468.48M473.77 92.48V106.06M472.07 92.48H475.47M472.07 106.06H475.47M479.83 87.38V102.10M478.13 87.38H481.53M478.13 102.10H481.53M486.26 80.03V95.87M484.56 80.03H487.96M484.56 95.87H487.96M492.69 72.10V89.08M490.99 72.10H494.39M490.99 89.08H494.39M499.67 65.31V82.29M497.97 65.31H501.37M497.97 82.29H501.37" fill="none" stroke="#222222" stroke-width="1.0"/>
<polyline points="388.90,149.19 401.75,144.55 414.61,132.10 421.96,128.70 428.39,125.87 434.82,122.48 441.25,117.95 447.68,113.42 461.27,106.06 466.78,103.23 473.77,99.27 479.83,94.74 486.26,87.95 492.69,80.59 499.67,73.80" fill="none" stroke="#222222" stroke-width="1.1"/>
<path d="M386.95 149.19L388.90 147.76L390.85 149.19L388.90 150.62Z" fill="#222222"/>
<path d="M399.81 144.55L401.75 143.12L403.70 144.55L401.75 145.98Z" fill="#222222"/>
<path d="M412.66 132.10L414.61 130.67L416.56 132.10L414.61 133.53Z" fill="#222222"/>
<path d="M420.01 128.70L421.96 127.27L423.91 128.70L421.96 130.13Z" fill="#222222"/>
<path d="M426.44 125.87L428.39 124.44L430.34 125.87L428.39 127.30Z" fill="#222222"/>
<path d="M432.87 122.48L434.82 121.05L436.77 122.48L434.82 123.91Z" fill="#222222"/>
<path d="M439.30 117.95L441.25 116.52L443.20 117.95L441.25 119.38Z" fill="#222222"/>
<path d="M445.73 113.42L447.68 111.99L449.63 113.42L447.68 114.85Z" fill="#222222"/>
<path d="M459.32 106.06L461.27 104.63L463.22 106.06L461.27 107.49Z" fill="#222222"/>
<path d="M464.83 103.23L466.78 101.80L468.73 103.23L466.78 104.66Z" fill="#222222"/>
<path d="M471.82 99.27L473.77 97.84L475.72 99.27L473.77 100.70Z" fill="#222222"/>
<path d="M477.88 94.74L479.83 93.31L481.78 94.74L479.83 96.17Z" fill="#222222"/>
<path d="M484.31 87.95L486.26 86.52L488.21 87.95L486.26 89.38Z" fill="#222222"/>
<path d="M490.74 80.59L492.69 79.16L494.64 80.59L492.69 82.02Z" fill="#222222"/>
<path d="M497.72 73.80L499.67 72.37L501.62 73.80L499.67 75.23Z" fill="#222222"/>
<path d="M401.75 144.27V145.96M400.06 144.27H403.45M400.06 145.96H403.45M414.61 133.74V137.14M412.91 133.74H416.31M412.91 137.14H416.31M421.96 129.32V133.85M420.26 129.32H423.66M420.26 133.85H423.66M428.39 127.57V133.23M426.69 127.57H430.09M426.69 133.23H430.09M434.82 123.78V129.44M433.12 123.78H436.52M433.12 129.44H436.52M441.25 119.08V125.87M439.55 119.08H442.95M439.55 125.87H442.95M447.68 115.06V122.99M445.98 115.06H449.38M445.98 122.99H449.38M461.27 109.46V118.51M459.57 109.46H462.97M459.57 118.51H462.97M466.78 107.19V117.38M465.08 107.19H468.48M465.08 117.38H468.48M473.77 104.65V115.97M472.07 104.65H475.47M472.07 115.97H475.47M479.83 98.70V111.16M478.13 98.70H481.53M478.13 111.16H481.53M486.26 90.89V104.48M484.56 90.89H487.96M484.56 104.48H487.96M492.69 89.65V104.36M490.99 89.65H494.39M490.99 104.36H494.39M499.67 88.46V104.31M497.97 88.46H501.37M497.97 104.31H501.37" fill="none" stroke="#66dd44" stroke-width="1.0"/>
<polyline points="388.90,149.19 401.75,145.12 414.61,135.44 421.96,131.59 428.39,130.40 434.82,126.61 441.25,122.48 447.68,119.02 461.27,113.99 466.78,112.29 473.77,110.31 479.83,104.93 486.26,97.69 492.69,97.01 499.67,96.38" fill="none" stroke="#66dd44" stroke-width="1.1"/>
<circle cx="388.90" cy="149.19" r="1.30" fill="#66dd44"/>
<circle cx="401.75" cy="145.12" r="1.30" fill="#66dd44"/>
<circle cx="414.61" cy="135.44" r="1.30" fill="#66dd44"/>
<circle cx="421.96" cy="131.59" r="1.30" fill="#66dd44"/>
<circle cx="428.39" cy="130.40" r="1.30" fill="#66dd44"/>
<circle cx="434.82" cy="126.61" r="1.30" fill="#66dd44"/>
<circle cx="441.25" cy="122.48" r="1.30" fill="#66dd44"/>
<circle cx="447.68" cy="119.02" r="1.30" fill="#66dd44"/>
<circle cx="461.27" cy="113.99" r="1.30" fill="#66dd44"/>
<circle cx="466.78" cy="112.29" r="1.30" fill="#66dd44"/>
<circle cx="473.77" cy="110.31" r="1.30" fill="#66dd44"/>
<circle cx="479.83" cy="104.93" r="1.30" fill="#66dd44"/>
<circle cx="486.26" cy="97.69" r="1.30" fill="#66dd44"/>
<circle cx="492.69" cy="97.01" r="1.30" fill="#66dd44"/>
<circle cx="499.67" cy="96.38" r="1.30" fill="#66dd44"/>
<path d="M414.61 144.27V145.96M412.91 144.27H416.31M412.91 145.96H416.31M421.96 143.98V145.68M420.26 143.98H423.66M420.26 145.68H423.66M428.39 143.13V145.40M426.69 143.13H430.09M426.69 145.40H430.09M434.82 141.72V143.98M433.12 141.72H436.52M433.12 143.98H436.52M441.25 139.17V142.00M439.55 139.17H442.95M439.55 142.00H442.95M447.68 134.36V137.76M445.98 134.36H449.38M445.98 137.76H449.38M461.27 125.87V130.40M459.57 125.87H462.97M459.57 130.40H462.97M466.78 124.74V130.40M465.08 124.74H468.48M465.08 130.40H468.48M473.77 121.34V128.14M472.07 121.34H475.47M472.07 128.14H475.47M479.83 116.25V124.17M478.13 116.25H481.53M478.13 124.17H481.53M486.26 111.16V120.21M484.56 111.16H487.96M484.56 120.21H487.96M492.69 106.06V116.25M490.99 106.06H494.39M490.99 116.25H494.39M499.67 100.40V112.85M497.97 100.40H501.37M497.97 112.85H501.37" fill="none" stroke="#2244dd" stroke-width="1.0"/>
<polyline points="388.90,149.19 401.75,147.38 414.61,145.12 421.96,144.83 428.39,144.27 434.82,142.85 441.25,140.59 447.68,136.06 461.27,128.14 466.78,127.57 473.77,124.74 479.83,120.21 486.26,115.68 492.69,111.16 499.67,106.63" fill="none" stroke="#2244dd" stroke-width="1.1"/>
<circle cx="388.90" cy="149.19" r="1.30" fill="#2244dd"/>
<circle cx="401.75" cy="147.38" r="1.30" fill="#2244dd"/>
<circle cx="414.61" cy="145.12" r="1.30" fill="#2244dd"/>
<circle cx="421.96" cy="144.83" r="1.30" fill="#2244dd"/>
<circle cx="428.39" cy="144.27" r="1.30" fill="#2244dd"/>
<circle cx="434.82" cy="142.85" r="1.30" fill="#2244dd"/>
<circle cx="441.25" cy="140.59" r="1.30" fill="#2244dd"/>
<circle cx="447.68" cy="136.06" r="1.30" fill="#2244dd"/>
<circle cx="461.27" cy="128.14" r="1.30" fill="#2244dd"/>
<circle cx="466.78" cy="127.57" r="1.30" fill="#2244dd"/>
<circle cx="473.77" cy="124.74" r="1.30" fill="#2244dd"/>
<circle cx="479.83" cy="120.21" r="1.30" fill="#2244dd"/>
<circle cx="486.26" cy="115.68" r="1.30" fill="#2244dd"/>
<circle cx="492.69" cy="111.16" r="1.30" fill="#2244dd"/>
<circle cx="499.67" cy="106.63" r="1.30" fill="#2244dd"/>
<path d="M441.25 145.68V147.95M439.55 145.68H442.95M439.55 147.95H442.95M447.68 143.13V147.66M445.98 143.13H449.38M445.98 147.66H449.38M461.27 136.63V147.95M459.57 136.63H462.97M459.57 147.95H462.97M466.78 134.36V149.08M465.08 134.36H468.48M465.08 149.08H468.48M473.77 131.93V148.91M472.07 131.93H475.47M472.07 148.91H475.47M479.83 130.40V147.38M478.13 130.40H481.53M478.13 147.38H481.53M486.26 127.57V145.68M484.56 127.57H487.96M484.56 145.68H487.96M492.69 124.46V143.70M490.99 124.46H494.39M490.99 143.70H494.39M499.67 121.40V141.78M497.97 121.40H501.37M497.97 141.78H501.37" fill="none" stroke="#dd2233" stroke-width="1.0"/>
<polyline points="388.90,149.19 401.75,149.19 414.61,149.19 421.96,149.19 428.39,149.36 434.82,150.04 441.25,146.81 447.68,145.40 461.27,142.29 466.78,141.72 473.77,140.42 479.83,138.89 486.26,136.63 492.69,134.08 499.67,131.59" fill="none" stroke="#dd2233" stroke-width="1.1"/>
<circle cx="388.90" cy="149.19" r="1.30" fill="#dd2233"/>
<circle cx="401.75" cy="149.19" r="1.30" fill="#dd2233"/>
<circle cx="414.61" cy="149.19" r="1.30" fill="#dd2233"/>
<circle cx="421.96" cy="149.19" r="1.30" fill="#dd2233"/>
<circle cx="428.39" cy="149.36" r="1.30" fill="#dd2233"/>
<circle cx="434.82" cy="150.04" r="1.30" fill="#dd2233"/>
<circle cx="441.25" cy="146.81" r="1.30" fill="#dd2233"/>
<circle cx="447.68" cy="145.40" r="1.30" fill="#dd2233"/>
<circle cx="461.27" cy="142.29" r="1.30" fill="#dd2233"/>
<circle cx="466.78" cy="141.72" r="1.30" fill="#dd2233"/>
<circle cx="473.77" cy="140.42" r="1.30" fill="#dd2233"/>
<circle cx="479.83" cy="138.89" r="1.30" fill="#dd2233"/>
<circle cx="486.26" cy="136.63" r="1.30" fill="#dd2233"/>
<circle cx="492.69" cy="134.08" r="1.30" fill="#dd2233"/>
<circle cx="499.67" cy="131.59" r="1.30" fill="#dd2233"/>
<path d="M447.68 148.23V150.49M445.98 148.23H449.38M445.98 150.49H449.38M461.27 146.59V149.98M459.57 146.59H462.97M459.57 149.98H462.97M466.78 145.68V150.21M465.08 145.68H468.48M465.08 150.21H468.48M473.77 144.55V150.21M472.07 144.55H475.47M472.07 150.21H475.47M479.83 142.85V149.64M478.13 142.85H481.53M478.13 149.64H481.53M486.26 140.02V147.95M484.56 140.02H487.96M484.56 147.95H487.96M492.69 137.19V146.25M490.99 137.19H494.39M490.99 146.25H494.39M499.67 135.38V144.44M497.97 135.38H501.37M497.97 144.44H501.37" fill="none" stroke="#aacc33" stroke-width="1.0"/>
<polyline points="388.90,149.19 401.75,149.19 414.61,149.19 421.96,149.19 428.39,149.36 434.82,149.36 441.25,149.36 447.68,149.36 461.27,148.29 466.78,147.95 473.77,147.38 479.83,146.25 486.26,143.98 492.69,141.72 499.67,139.91" fill="none" stroke="#aacc33" stroke-width="1.1"/>
<circle cx="388.90" cy="149.19" r="1.30" fill="#aacc33"/>
<circle cx="401.75" cy="149.19" r="1.30" fill="#aacc33"/>
<circle cx="414.61" cy="149.19" r="1.30" fill="#aacc33"/>
<circle cx="421.96" cy="149.19" r="1.30" fill="#aacc33"/>
<circle cx="428.39" cy="149.36" r="1.30" fill="#aacc33"/>
<circle cx="434.82" cy="149.36" r="1.30" fill="#aacc33"/>
<circle cx="441.25" cy="149.36" r="1.30" fill="#aacc33"/>
<circle cx="447.68" cy="149.36" r="1.30" fill="#aacc33"/>
<circle cx="461.27" cy="148.29" r="1.30" fill="#aacc33"/>
<circle cx="466.78" cy="147.95" r="1.30" fill="#aacc33"/>
<circle cx="473.77" cy="147.38" r="1.30" fill="#aacc33"/>
<circle cx="479.83" cy="146.25" r="1.30" fill="#aacc33"/>
<circle cx="486.26" cy="143.98" r="1.30" fill="#aacc33"/>
<circle cx="492.69" cy="141.72" r="1.30" fill="#aacc33"/>
<circle cx="499.67" cy="139.91" r="1.30" fill="#aacc33"/>
<path d="M401.75 143.70V145.97M400.06 143.70H403.45M400.06 145.97H403.45M414.61 130.40V137.19M412.91 130.40H416.31M412.91 137.19H416.31M421.96 126.44V134.36M420.26 126.44H423.66M420.26 134.36H423.66M428.39 122.48V131.53M426.69 122.48H430.09M426.69 131.53H430.09M434.82 118.51V128.70M433.12 118.51H436.52M433.12 128.70H436.52M441.25 113.42V124.74M439.55 113.42H442.95M439.55 124.74H442.95M447.68 107.76V120.21M445.98 107.76H449.38M445.98 120.21H449.38M461.27 100.97V114.55M459.57 100.97H462.97M459.57 114.55H462.97M466.78 96.67V111.38M465.08 96.67H468.48M465.08 111.38H468.48M473.77 98.59V114.44M472.07 98.59H475.47M472.07 114.44H475.47M479.83 87.95V104.93M478.13 87.95H481.53M478.13 104.93H481.53M486.26 64.74V82.86M484.56 64.74H487.96M484.56 82.86H487.96M492.69 67.01V86.25M490.99 67.01H494.39M490.99 86.25H494.39M499.67 53.59V73.97M497.97 53.59H501.37M497.97 73.97H501.37" fill="none" stroke="#7733cc" stroke-width="1.0"/>
<polyline points="388.90,149.19 401.75,144.83 414.61,133.80 421.96,130.40 428.39,127.00 434.82,123.61 441.25,119.08 447.68,113.99 461.27,107.76 466.78,104.02 473.77,106.51 479.83,96.44 486.26,73.80 492.69,76.63 499.67,63.78" fill="none" stroke="#7733cc" stroke-width="1.1"/>
<path d="M387.14 150.43L388.90 147.70L390.65 150.43Z" fill="#7733cc"/>
<path d="M400.00 146.07L401.75 143.34L403.51 146.07Z" fill="#7733cc"/>
<path d="M412.86 135.03L414.61 132.30L416.37 135.03Z" fill="#7733cc"/>
<path d="M420.21 131.63L421.96 128.90L423.72 131.63Z" fill="#7733cc"/>
<path d="M426.64 128.24L428.39 125.51L430.15 128.24Z" fill="#7733cc"/>
<path d="M433.07 124.84L434.82 122.11L436.58 124.84Z" fill="#7733cc"/>
<path d="M439.50 120.31L441.25 117.58L443.01 120.31Z" fill="#7733cc"/>
<path d="M445.93 115.22L447.68 112.49L449.44 115.22Z" fill="#7733cc"/>
<path d="M459.52 108.99L461.27 106.26L463.03 108.99Z" fill="#7733cc"/>
<path d="M465.03 105.26L466.78 102.53L468.54 105.26Z" fill="#7733cc"/>
<path d="M472.01 107.75L473.77 105.02L475.52 107.75Z" fill="#7733cc"/>
<path d="M478.07 97.67L479.83 94.94L481.58 97.67Z" fill="#7733cc"/>
<path d="M484.50 75.03L486.26 72.30L488.01 75.03Z" fill="#7733cc"/>
<path d="M490.93 77.86L492.69 75.13L494.44 77.86Z" fill="#7733cc"/>
<path d="M497.91 65.02L499.67 62.29L501.42 65.02Z" fill="#7733cc"/>
<path d="M401.75 143.70V145.97M400.06 143.70H403.45M400.06 145.97H403.45M414.61 129.83V136.63M412.91 129.83H416.31M412.91 136.63H416.31M421.96 125.87V133.80M420.26 125.87H423.66M420.26 133.80H423.66M428.39 121.91V130.97M426.69 121.91H430.09M426.69 130.97H430.09M434.82 117.38V127.57M433.12 117.38H436.52M433.12 127.57H436.52M441.25 111.72V123.04M439.55 111.72H442.95M439.55 123.04H442.95M447.68 105.50V117.95M445.98 105.50H449.38M445.98 117.95H449.38M461.27 87.10V100.68M459.57 87.10H462.97M459.57 100.68H462.97M466.78 85.69V100.40M465.08 85.69H468.48M465.08 100.40H468.48M473.77 85.97V101.82M472.07 85.97H475.47M472.07 101.82H475.47M479.83 79.46V96.44M478.13 79.46H481.53M478.13 96.44H481.53M486.26 67.57V85.69M484.56 67.57H487.96M484.56 85.69H487.96M492.69 68.71V87.95M490.99 68.71H494.39M490.99 87.95H494.39M499.67 57.33V77.71M497.97 57.33H501.37M497.97 77.71H501.37" fill="none" stroke="#b0b8cc" stroke-width="1.0"/>
<polyline points="388.90,149.19 401.75,144.83 414.61,133.23 421.96,129.83 428.39,126.44 434.82,122.48 441.25,117.38 447.68,111.72 461.27,93.89 466.78,93.04 473.77,93.89 479.83,87.95 486.26,76.63 492.69,78.33 499.67,67.52" fill="none" stroke="#b0b8cc" stroke-width="1.1"/>
<path d="M386.95 149.19L388.90 147.76L390.85 149.19L388.90 150.62Z" fill="#b0b8cc"/>
<path d="M399.81 144.83L401.75 143.40L403.70 144.83L401.75 146.26Z" fill="#b0b8cc"/>
<path d="M412.66 133.23L414.61 131.80L416.56 133.23L414.61 134.66Z" fill="#b0b8cc"/>
<path d="M420.01 129.83L421.96 128.40L423.91 129.83L421.96 131.26Z" fill="#b0b8cc"/>
<path d="M426.44 126.44L428.39 125.01L430.34 126.44L428.39 127.87Z" fill="#b0b8cc"/>
<path d="M432.87 122.48L434.82 121.05L436.77 122.48L434.82 123.91Z" fill="#b0b8cc"/>
<path d="M439.30 117.38L441.25 115.95L443.20 117.38L441.25 118.81Z" fill="#b0b8cc"/>
<path d="M445.73 111.72L447.68 110.29L449.63 111.72L447.68 113.15Z" fill="#b0b8cc"/>
<path d="M459.32 93.89L461.27 92.46L463.22 93.89L461.27 95.32Z" fill="#b0b8cc"/>
<path d="M464.83 93.04L466.78 91.61L468.73 93.04L466.78 94.47Z" fill="#b0b8cc"/>
<path d="M471.82 93.89L473.77 92.46L475.72 93.89L473.77 95.32Z" fill="#b0b8cc"/>
<path d="M477.88 87.95L479.83 86.52L481.78 87.95L479.83 89.38Z" fill="#b0b8cc"/>
<path d="M484.31 76.63L486.26 75.20L488.21 76.63L486.26 78.06Z" fill="#b0b8cc"/>
<path d="M490.74 78.33L492.69 76.90L494.64 78.33L492.69 79.76Z" fill="#b0b8cc"/>
<path d="M497.72 67.52L499.67 66.09L501.62 67.52L499.67 68.95Z" fill="#b0b8cc"/>
<path d="M401.75 144.27V145.96M400.06 144.27H403.45M400.06 145.96H403.45M414.61 133.74V137.14M412.91 133.74H416.31M412.91 137.14H416.31M421.96 129.32V133.85M420.26 129.32H423.66M420.26 133.85H423.66M428.39 127.00V132.66M426.69 127.00H430.09M426.69 132.66H430.09M434.82 123.21V130.00M433.12 123.21H436.52M433.12 130.00H436.52M441.25 117.95V125.87M439.55 117.95H442.95M439.55 125.87H442.95M447.68 112.51V121.57M445.98 112.51H449.38M445.98 121.57H449.38M461.27 107.70V117.89M459.57 107.70H462.97M459.57 117.89H462.97M466.78 106.63V117.95M465.08 106.63H468.48M465.08 117.95H468.48M473.77 105.50V117.95M472.07 105.50H475.47M472.07 117.95H475.47M479.83 95.31V108.89M478.13 95.31H481.53M478.13 108.89H481.53M486.26 80.25V94.97M484.56 80.25H487.96M484.56 94.97H487.96M492.69 73.46V89.31M490.99 73.46H494.39M490.99 89.31H494.39M499.67 68.14V85.12M497.97 68.14H501.37M497.97 85.12H501.37" fill="none" stroke="#bbdd22" stroke-width="1.0"/>
<polyline points="388.90,149.19 401.75,145.12 414.61,135.44 421.96,131.59 428.39,129.83 434.82,126.61 441.25,121.91 447.68,117.04 461.27,112.80 466.78,112.29 473.77,111.72 479.83,102.10 486.26,87.61 492.69,81.38 499.67,76.63" fill="none" stroke="#bbdd22" stroke-width="1.1"/>
<rect x="387.60" y="147.89" width="2.60" height="2.60" fill="#bbdd22"/>
<rect x="400.45" y="143.82" width="2.60" height="2.60" fill="#bbdd22"/>
<rect x="413.31" y="134.14" width="2.60" height="2.60" fill="#bbdd22"/>
<rect x="420.66" y="130.29" width="2.60" height="2.60" fill="#bbdd22"/>
<rect x="427.09" y="128.53" width="2.60" height="2.60" fill="#bbdd22"/>
<rect x="433.52" y="125.31" width="2.60" height="2.60" fill="#bbdd22"/>
<rect x="439.95" y="120.61" width="2.60" height="2.60" fill="#bbdd22"/>
<rect x="446.38" y="115.74" width="2.60" height="2.60" fill="#bbdd22"/>
<rect x="459.97" y="111.50" width="2.60" height="2.60" fill="#bbdd22"/>
<rect x="465.48" y="110.99" width="2.60" height="2.60" fill="#bbdd22"/>
<rect x="472.47" y="110.42" width="2.60" height="2.60" fill="#bbdd22"/>
<rect x="478.53" y="100.80" width="2.60" height="2.60" fill="#bbdd22"/>
<rect x="484.96" y="86.31" width="2.60" height="2.60" fill="#bbdd22"/>
<rect x="491.39" y="80.08" width="2.60" height="2.60" fill="#bbdd22"/>
<rect x="498.37" y="75.33" width="2.60" height="2.60" fill="#bbdd22"/>
<path d="M401.75 142.85V145.12M400.06 142.85H403.45M400.06 145.12H403.45M414.61 126.44V134.36M412.91 126.44H416.31M412.91 134.36H416.31M421.96 123.61V131.53M420.26 123.61H423.66M420.26 131.53H423.66M428.39 120.21V129.27M426.69 120.21H430.09M426.69 129.27H430.09M434.82 116.82V125.87M433.12 116.82H436.52M433.12 125.87H436.52M441.25 110.02V120.21M439.55 110.02H442.95M439.55 120.21H442.95M447.68 104.93V116.25M445.98 104.93H449.38M445.98 116.25H449.38M461.27 97.80V110.25M459.57 97.80H462.97M459.57 110.25H462.97M466.78 95.31V108.89M465.08 95.31H468.48M465.08 108.89H468.48M473.77 90.33V105.04M472.07 90.33H475.47M472.07 105.04H475.47M479.83 85.69V101.53M478.13 85.69H481.53M478.13 101.53H481.53M486.26 76.63V93.61M484.56 76.63H487.96M484.56 93.61H487.96M492.69 69.72V87.84M490.99 69.72H494.39M490.99 87.84H494.39M499.67 62.82V79.80M497.97 62.82H501.37M497.97 79.80H501.37" fill="none" stroke="#111111" stroke-width="1.0"/>
<polyline points="388.90,149.19 401.75,143.98 414.61,130.40 421.96,127.57 428.39,124.74 434.82,121.34 441.25,115.12 447.68,110.59 461.27,104.02 466.78,102.10 473.77,97.69 479.83,93.61 486.26,85.12 492.69,78.78 499.67,71.31" fill="none" stroke="#111111" stroke-width="1.1"/>
<circle cx="388.90" cy="149.19" r="1.30" fill="#111111"/>
<circle cx="401.75" cy="143.98" r="1.30" fill="#111111"/>
<circle cx="414.61" cy="130.40" r="1.30" fill="#111111"/>
<circle cx="421.96" cy="127.57" r="1.30" fill="#111111"/>
<circle cx="428.39" cy="124.74" r="1.30" fill="#111111"/>
<circle cx="434.82" cy="121.34" r="1.30" fill="#111111"/>
<circle cx="441.25" cy="115.12" r="1.30" fill="#111111"/>
<circle cx="447.68" cy="110.59" r="1.30" fill="#111111"/>
<circle cx="461.27" cy="104.02" r="1.30" fill="#111111"/>
<circle cx="466.78" cy="102.10" r="1.30" fill="#111111"/>
<circle cx="473.77" cy="97.69" r="1.30" fill="#111111"/>
<circle cx="479.83" cy="93.61" r="1.30" fill="#111111"/>
<circle cx="486.26" cy="85.12" r="1.30" fill="#111111"/>
<circle cx="492.69" cy="78.78" r="1.30" fill="#111111"/>
<circle cx="499.67" cy="71.31" r="1.30" fill="#111111"/>
<path d="M374.20 45.50V158.70H502.79" fill="none" stroke="#000" stroke-width="0.9"/>
<text transform="translate(371.20 160.61) scale(0.8197 1)" font-size="6.466" font-weight="bold" text-anchor="end" fill="#000" stroke="#000" stroke-width="0.12" >0</text>
<text transform="translate(371.20 146.46) scale(0.8197 1)" font-size="6.466" font-weight="bold" text-anchor="end" fill="#000" stroke="#000" stroke-width="0.12" >250</text>
<text transform="translate(371.20 132.31) scale(0.8197 1)" font-size="6.466" font-weight="bold" text-anchor="end" fill="#000" stroke="#000" stroke-width="0.12" >500</text>
<text transform="translate(371.20 118.16) scale(0.8197 1)" font-size="6.466" font-weight="bold" text-anchor="end" fill="#000" stroke="#000" stroke-width="0.12" >750</text>
<text transform="translate(371.20 104.01) scale(0.8197 1)" font-size="6.466" font-weight="bold" text-anchor="end" fill="#000" stroke="#000" stroke-width="0.12" >1,000</text>
<text transform="translate(371.20 89.86) scale(0.8197 1)" font-size="6.466" font-weight="bold" text-anchor="end" fill="#000" stroke="#000" stroke-width="0.12" >1,250</text>
<text transform="translate(371.20 75.71) scale(0.8197 1)" font-size="6.466" font-weight="bold" text-anchor="end" fill="#000" stroke="#000" stroke-width="0.12" >1,500</text>
<text transform="translate(371.20 61.56) scale(0.8197 1)" font-size="6.466" font-weight="bold" text-anchor="end" fill="#000" stroke="#000" stroke-width="0.12" >1,750</text>
<text transform="translate(371.20 47.41) scale(0.8197 1)" font-size="6.466" font-weight="bold" text-anchor="end" fill="#000" stroke="#000" stroke-width="0.12" >2,000</text>
<text transform="translate(374.20 166.61) scale(0.8197 1)" font-size="6.466" font-weight="bold" text-anchor="middle" fill="#000" stroke="#000" stroke-width="0.12" >0</text>
<text transform="translate(392.57 166.61) scale(0.8197 1)" font-size="6.466" font-weight="bold" text-anchor="middle" fill="#000" stroke="#000" stroke-width="0.12" >10</text>
<text transform="translate(410.94 166.61) scale(0.8197 1)" font-size="6.466" font-weight="bold" text-anchor="middle" fill="#000" stroke="#000" stroke-width="0.12" >20</text>
<text transform="translate(429.31 166.61) scale(0.8197 1)" font-size="6.466" font-weight="bold" text-anchor="middle" fill="#000" stroke="#000" stroke-width="0.12" >30</text>
<text transform="translate(447.68 166.61) scale(0.8197 1)" font-size="6.466" font-weight="bold" text-anchor="middle" fill="#000" stroke="#000" stroke-width="0.12" >40</text>
<text transform="translate(466.05 166.61) scale(0.8197 1)" font-size="6.466" font-weight="bold" text-anchor="middle" fill="#000" stroke="#000" stroke-width="0.12" >50</text>
<text transform="translate(484.42 166.61) scale(0.8197 1)" font-size="6.466" font-weight="bold" text-anchor="middle" fill="#000" stroke="#000" stroke-width="0.12" >60</text>
<text transform="translate(502.79 166.61) scale(0.8197 1)" font-size="6.466" font-weight="bold" text-anchor="middle" fill="#000" stroke="#000" stroke-width="0.12" >70</text>
<path d="M372.00 158.70H374.20 M373.00 155.87H374.20 M373.00 153.04H374.20 M373.00 150.21H374.20 M373.00 147.38H374.20 M372.00 144.55H374.20 M373.00 141.72H374.20 M373.00 138.89H374.20 M373.00 136.06H374.20 M373.00 133.23H374.20 M372.00 130.40H374.20 M373.00 127.57H374.20 M373.00 124.74H374.20 M373.00 121.91H374.20 M373.00 119.08H374.20 M372.00 116.25H374.20 M373.00 113.42H374.20 M373.00 110.59H374.20 M373.00 107.76H374.20 M373.00 104.93H374.20 M372.00 102.10H374.20 M373.00 99.27H374.20 M373.00 96.44H374.20 M373.00 93.61H374.20 M373.00 90.78H374.20 M372.00 87.95H374.20 M373.00 85.12H374.20 M373.00 82.29H374.20 M373.00 79.46H374.20 M373.00 76.63H374.20 M372.00 73.80H374.20 M373.00 70.97H374.20 M373.00 68.14H374.20 M373.00 65.31H374.20 M373.00 62.48H374.20 M372.00 59.65H374.20 M373.00 56.82H374.20 M373.00 53.99H374.20 M373.00 51.16H374.20 M373.00 48.33H374.20 M372.00 45.50H374.20 M374.20 158.70V160.90 M377.87 158.70V159.90 M381.55 158.70V159.90 M385.22 158.70V159.90 M388.90 158.70V159.90 M392.57 158.70V160.90 M396.24 158.70V159.90 M399.92 158.70V159.90 M403.59 158.70V159.90 M407.27 158.70V159.90 M410.94 158.70V160.90 M414.61 158.70V159.90 M418.29 158.70V159.90 M421.96 158.70V159.90 M425.64 158.70V159.90 M429.31 158.70V160.90 M432.98 158.70V159.90 M436.66 158.70V159.90 M440.33 158.70V159.90 M444.01 158.70V159.90 M447.68 158.70V160.90 M451.35 158.70V159.90 M455.03 158.70V159.90 M458.70 158.70V159.90 M462.38 158.70V159.90 M466.05 158.70V160.90 M469.72 158.70V159.90 M473.40 158.70V159.90 M477.07 158.70V159.90 M480.75 158.70V159.90 M484.42 158.70V160.90 M488.09 158.70V159.90 M491.77 158.70V159.90 M495.44 158.70V159.90 M499.12 158.70V159.90 M502.79 158.70V160.90" fill="none" stroke="#000" stroke-width="0.7"/>
<text transform="translate(339.80 24.60) scale(0.9091 1)" font-size="13.750" font-weight="bold" text-anchor="start" fill="#000" stroke="#000" stroke-width="0.25" >C</text>
<text transform="translate(427.00 23.90) scale(0.8696 1)" font-size="11.270" font-weight="normal" text-anchor="start" fill="#000" stroke="#000" stroke-width="0.15" >786-0</text>
<text transform="translate(355.70 102.00) rotate(-90)" font-size="8.05" font-weight="bold" text-anchor="middle" stroke="#000" stroke-width="0.2">Tumor volume (mm<tspan font-size="4.99" dy="-3.06">3</tspan><tspan dy="3.06">)</tspan></text>
<text x="423.40" y="186.60" font-size="8.8" font-weight="bold" text-anchor="start" fill="#000" stroke="#000" stroke-width="0.2" >Study day</text>
<path d="M393.35 174.30L395.80 169.80L398.25 174.30L396.40 173.70V175.00H395.20V173.70Z" fill="#000"/>
<path d="M406.15 174.30L408.60 169.80L411.05 174.30L409.20 173.70V175.00H408.00V173.70Z" fill="#000"/>
<path d="M419.25 174.30L421.70 169.80L424.15 174.30L422.30 173.70V175.00H421.10V173.70Z" fill="#000"/>
<path d="M432.55 174.30L435.00 169.80L437.45 174.30L435.60 173.70V175.00H434.40V173.70Z" fill="#000"/>
<path d="M445.65 174.30L448.10 169.80L450.55 174.30L448.70 173.70V175.00H447.50V173.70Z" fill="#000"/>
<path d="M375.50 34.20H382.90" stroke="#111111" stroke-width="1"/>
<circle cx="379.20" cy="34.20" r="1.50" fill="#111111"/>
<text transform="translate(386.50 36.15) scale(0.9434 1)" font-size="5.745" font-weight="bold" text-anchor="start" fill="#000" stroke="#000" stroke-width="0.1" >Vehicle</text>
<path d="M375.50 41.68H382.90" stroke="#222222" stroke-width="1"/>
<path d="M376.95 41.68L379.20 40.03L381.45 41.68L379.20 43.33Z" fill="#222222"/>
<text transform="translate(386.50 43.63) scale(0.9434 1)" font-size="5.745" font-weight="bold" text-anchor="start" fill="#000" stroke="#000" stroke-width="0.1" >IgG Control (1 mg/kg)</text>
<path d="M375.50 49.16H382.90" stroke="#66dd44" stroke-width="1"/>
<circle cx="379.20" cy="49.16" r="1.50" fill="#66dd44"/>
<text transform="translate(386.50 51.11) scale(0.9434 1)" font-size="5.745" font-weight="bold" text-anchor="start" fill="#000" stroke="#000" stroke-width="0.1" >IgG Control (5 mg/kg)</text>
<path d="M375.50 56.64H382.90" stroke="#2244dd" stroke-width="1"/>
<circle cx="379.20" cy="56.64" r="1.50" fill="#2244dd"/>
<text transform="translate(386.50 58.59) scale(0.9434 1)" font-size="5.745" font-weight="bold" text-anchor="start" fill="#000" stroke="#000" stroke-width="0.1" >MGA271 (0.5 mg/kg)</text>
<path d="M375.50 64.12H382.90" stroke="#dd2233" stroke-width="1"/>
<circle cx="379.20" cy="64.12" r="1.50" fill="#dd2233"/>
<text transform="translate(386.50 66.07) scale(0.9434 1)" font-size="5.745" font-weight="bold" text-anchor="start" fill="#000" stroke="#000" stroke-width="0.1" >MGA271 (1 mg/kg)</text>
<path d="M375.50 71.60H382.90" stroke="#aacc33" stroke-width="1"/>
<circle cx="379.20" cy="71.60" r="1.50" fill="#aacc33"/>
<text transform="translate(386.50 73.55) scale(0.9434 1)" font-size="5.745" font-weight="bold" text-anchor="start" fill="#000" stroke="#000" stroke-width="0.1" >MGA271 (5 mg/kg)</text>
<path d="M375.50 79.08H382.90" stroke="#7733cc" stroke-width="1"/>
<path d="M377.18 80.51L379.20 77.36L381.22 80.51Z" fill="#7733cc"/>
<text transform="translate(386.50 81.03) scale(0.9434 1)" font-size="5.745" font-weight="bold" text-anchor="start" fill="#000" stroke="#000" stroke-width="0.1" >RES240 aglycosyl (0.5 mg/kg)</text>
<path d="M375.50 86.56H382.90" stroke="#b0b8cc" stroke-width="1"/>
<path d="M376.95 86.56L379.20 84.91L381.45 86.56L379.20 88.21Z" fill="#b0b8cc"/>
<text transform="translate(386.50 88.51) scale(0.9434 1)" font-size="5.745" font-weight="bold" text-anchor="start" fill="#000" stroke="#000" stroke-width="0.1" >RES240 aglycosyl (1 mg/kg)</text>
<path d="M375.50 94.04H382.90" stroke="#bbdd22" stroke-width="1"/>
<rect x="377.70" y="92.54" width="3.00" height="3.00" fill="#bbdd22"/>
<text transform="translate(386.50 95.99) scale(0.9434 1)" font-size="5.745" font-weight="bold" text-anchor="start" fill="#000" stroke="#000" stroke-width="0.1" >RES240 aglycosyl (5 mg/kg)</text>
<path d="M125.31 314.71V320.95M123.61 314.71H127.01M123.61 320.95H127.01M130.41 315.12V321.36M128.71 315.12H132.10M128.71 321.36H132.10M135.50 313.88V320.12M133.80 313.88H137.20M133.80 320.12H137.20M140.59 314.50V320.74M138.89 314.50H142.29M138.89 320.74H142.29M144.96 315.54V321.78M143.26 315.54H146.66M143.26 321.78H146.66M150.05 316.58V322.82M148.35 316.58H151.75M148.35 322.82H151.75M155.14 317.41V323.65M153.44 317.41H156.84M153.44 323.65H156.84M159.50 315.54V323.86M157.81 315.54H161.20M157.81 323.86H161.20M164.60 309.72V320.12M162.90 309.72H166.30M162.90 320.12H166.30M170.42 304.52V317.00M168.72 304.52H172.12M168.72 317.00H172.12M175.51 299.32V313.88M173.81 299.32H177.21M173.81 313.88H177.21M180.60 293.28V309.92M178.90 293.28H182.30M178.90 309.92H182.30M185.69 288.50V307.22M184.00 288.50H187.39M184.00 307.22H187.39M190.79 283.30V304.10M189.09 283.30H192.49M189.09 304.10H192.49M195.88 277.06V299.94M194.18 277.06H197.58M194.18 299.94H197.58M200.97 270.82V295.78M199.27 270.82H202.67M199.27 295.78H202.67M206.06 269.78V292.66M204.37 269.78H207.76M204.37 292.66H207.76M211.16 262.50V289.54M209.46 262.50H212.86M209.46 289.54H212.86M216.98 245.44V278.72M215.28 245.44H218.68M215.28 278.72H218.68" fill="none" stroke="#77e044" stroke-width="1.0"/>
<polyline points="125.31,317.83 130.41,318.24 135.50,317.00 140.59,317.62 144.96,318.66 150.05,319.70 155.14,320.53 159.50,319.70 164.60,314.92 170.42,310.76 175.51,306.60 180.60,301.60 185.69,297.86 190.79,293.70 195.88,288.50 200.97,283.30 206.06,281.22 211.16,276.02 216.98,262.08" fill="none" stroke="#77e044" stroke-width="1.1"/>
<circle cx="125.31" cy="317.83" r="1.60" fill="#77e044"/>
<circle cx="130.41" cy="318.24" r="1.60" fill="#77e044"/>
<circle cx="135.50" cy="317.00" r="1.60" fill="#77e044"/>
<circle cx="140.59" cy="317.62" r="1.60" fill="#77e044"/>
<circle cx="144.96" cy="318.66" r="1.60" fill="#77e044"/>
<circle cx="150.05" cy="319.70" r="1.60" fill="#77e044"/>
<circle cx="155.14" cy="320.53" r="1.60" fill="#77e044"/>
<circle cx="159.50" cy="319.70" r="1.60" fill="#77e044"/>
<circle cx="164.60" cy="314.92" r="1.60" fill="#77e044"/>
<circle cx="170.42" cy="310.76" r="1.60" fill="#77e044"/>
<circle cx="175.51" cy="306.60" r="1.60" fill="#77e044"/>
<circle cx="180.60" cy="301.60" r="1.60" fill="#77e044"/>
<circle cx="185.69" cy="297.86" r="1.60" fill="#77e044"/>
<circle cx="190.79" cy="293.70" r="1.60" fill="#77e044"/>
<circle cx="195.88" cy="288.50" r="1.60" fill="#77e044"/>
<circle cx="200.97" cy="283.30" r="1.60" fill="#77e044"/>
<circle cx="206.06" cy="281.22" r="1.60" fill="#77e044"/>
<circle cx="211.16" cy="276.02" r="1.60" fill="#77e044"/>
<circle cx="216.98" cy="262.08" r="1.60" fill="#77e044"/>
<path d="M125.31 323.65V327.81M123.61 323.65H127.01M123.61 327.81H127.01M130.41 324.90V329.06M128.71 324.90H132.10M128.71 329.06H132.10M135.50 322.82V326.98M133.80 322.82H137.20M133.80 326.98H137.20M140.59 323.24V327.40M138.89 323.24H142.29M138.89 327.40H142.29M144.96 323.24V327.40M143.26 323.24H146.66M143.26 327.40H146.66M150.05 322.82V326.98M148.35 322.82H151.75M148.35 326.98H151.75M155.14 322.82V326.98M153.44 322.82H156.84M153.44 326.98H156.84M159.50 322.40V327.40M157.81 322.40H161.20M157.81 327.40H161.20M164.60 321.36V327.60M162.90 321.36H166.30M162.90 327.60H166.30M170.42 318.66V326.98M168.72 318.66H172.12M168.72 326.98H172.12M175.51 316.58V326.98M173.81 316.58H177.21M173.81 326.98H177.21M180.60 312.42V324.90M178.90 312.42H182.30M178.90 324.90H182.30M185.69 307.22V321.78M184.00 307.22H187.39M184.00 321.78H187.39M190.79 303.06V319.70M189.09 303.06H192.49M189.09 319.70H192.49M195.88 297.86V316.58M194.18 297.86H197.58M194.18 316.58H197.58M200.97 292.66V313.46M199.27 292.66H202.67M199.27 313.46H202.67M206.06 288.50V309.30M204.37 288.50H207.76M204.37 309.30H207.76M211.16 284.96V305.76M209.46 284.96H212.86M209.46 305.76H212.86M216.98 282.26V303.06M215.28 282.26H218.68M215.28 303.06H218.68" fill="none" stroke="#ee1111" stroke-width="1.0"/>
<polyline points="125.31,325.73 130.41,326.98 135.50,324.90 140.59,325.32 144.96,325.32 150.05,324.90 155.14,324.90 159.50,324.90 164.60,324.48 170.42,322.82 175.51,321.78 180.60,318.66 185.69,314.50 190.79,311.38 195.88,307.22 200.97,303.06 206.06,298.90 211.16,295.36 216.98,292.66" fill="none" stroke="#ee1111" stroke-width="1.1"/>
<rect x="123.71" y="324.13" width="3.20" height="3.20" fill="#ee1111"/>
<rect x="128.81" y="325.38" width="3.20" height="3.20" fill="#ee1111"/>
<rect x="133.90" y="323.30" width="3.20" height="3.20" fill="#ee1111"/>
<rect x="138.99" y="323.72" width="3.20" height="3.20" fill="#ee1111"/>
<rect x="143.36" y="323.72" width="3.20" height="3.20" fill="#ee1111"/>
<rect x="148.45" y="323.30" width="3.20" height="3.20" fill="#ee1111"/>
<rect x="153.54" y="323.30" width="3.20" height="3.20" fill="#ee1111"/>
<rect x="157.91" y="323.30" width="3.20" height="3.20" fill="#ee1111"/>
<rect x="163.00" y="322.88" width="3.20" height="3.20" fill="#ee1111"/>
<rect x="168.82" y="321.22" width="3.20" height="3.20" fill="#ee1111"/>
<rect x="173.91" y="320.18" width="3.20" height="3.20" fill="#ee1111"/>
<rect x="179.00" y="317.06" width="3.20" height="3.20" fill="#ee1111"/>
<rect x="184.09" y="312.90" width="3.20" height="3.20" fill="#ee1111"/>
<rect x="189.19" y="309.78" width="3.20" height="3.20" fill="#ee1111"/>
<rect x="194.28" y="305.62" width="3.20" height="3.20" fill="#ee1111"/>
<rect x="199.37" y="301.46" width="3.20" height="3.20" fill="#ee1111"/>
<rect x="204.47" y="297.30" width="3.20" height="3.20" fill="#ee1111"/>
<rect x="209.56" y="293.76" width="3.20" height="3.20" fill="#ee1111"/>
<rect x="215.38" y="291.06" width="3.20" height="3.20" fill="#ee1111"/>
<path d="M125.31 320.95V325.11M123.61 320.95H127.01M123.61 325.11H127.01M130.41 322.82V326.98M128.71 322.82H132.10M128.71 326.98H132.10M135.50 322.82V326.98M133.80 322.82H137.20M133.80 326.98H137.20M140.59 323.86V328.02M138.89 323.86H142.29M138.89 328.02H142.29M144.96 323.86V328.02M143.26 323.86H146.66M143.26 328.02H146.66M150.05 323.86V328.02M148.35 323.86H151.75M148.35 328.02H151.75M155.14 322.82V326.98M153.44 322.82H156.84M153.44 326.98H156.84M159.50 320.32V325.32M157.81 320.32H161.20M157.81 325.32H161.20M164.60 317.00V325.32M162.90 317.00H166.30M162.90 325.32H166.30M170.42 314.50V326.98M168.72 314.50H172.12M168.72 326.98H172.12M175.51 311.80V328.44M173.81 311.80H177.21M173.81 328.44H177.21M180.60 308.26V329.06M178.90 308.26H182.30M178.90 329.06H182.30M185.69 302.85V327.81M184.00 302.85H187.39M184.00 327.81H187.39M190.79 300.98V325.94M189.09 300.98H192.49M189.09 325.94H192.49M195.88 296.82V325.94M194.18 296.82H197.58M194.18 325.94H197.58M200.97 292.87V321.99M199.27 292.87H202.67M199.27 321.99H202.67M206.06 289.54V322.82M204.37 289.54H207.76M204.37 322.82H207.76M211.16 285.38V318.66M209.46 285.38H212.86M209.46 318.66H212.86M216.98 279.56V312.84M215.28 279.56H218.68M215.28 312.84H218.68" fill="none" stroke="#3366ee" stroke-width="1.0"/>
<polyline points="125.31,323.03 130.41,324.90 135.50,324.90 140.59,325.94 144.96,325.94 150.05,325.94 155.14,324.90 159.50,322.82 164.60,321.16 170.42,320.74 175.51,320.12 180.60,318.66 185.69,315.33 190.79,313.46 195.88,311.38 200.97,307.43 206.06,306.18 211.16,302.02 216.98,296.20" fill="none" stroke="#3366ee" stroke-width="1.1"/>
<circle cx="125.31" cy="323.03" r="1.60" fill="#3366ee"/>
<circle cx="130.41" cy="324.90" r="1.60" fill="#3366ee"/>
<circle cx="135.50" cy="324.90" r="1.60" fill="#3366ee"/>
<circle cx="140.59" cy="325.94" r="1.60" fill="#3366ee"/>
<circle cx="144.96" cy="325.94" r="1.60" fill="#3366ee"/>
<circle cx="150.05" cy="325.94" r="1.60" fill="#3366ee"/>
<circle cx="155.14" cy="324.90" r="1.60" fill="#3366ee"/>
<circle cx="159.50" cy="322.82" r="1.60" fill="#3366ee"/>
<circle cx="164.60" cy="321.16" r="1.60" fill="#3366ee"/>
<circle cx="170.42" cy="320.74" r="1.60" fill="#3366ee"/>
<circle cx="175.51" cy="320.12" r="1.60" fill="#3366ee"/>
<circle cx="180.60" cy="318.66" r="1.60" fill="#3366ee"/>
<circle cx="185.69" cy="315.33" r="1.60" fill="#3366ee"/>
<circle cx="190.79" cy="313.46" r="1.60" fill="#3366ee"/>
<circle cx="195.88" cy="311.38" r="1.60" fill="#3366ee"/>
<circle cx="200.97" cy="307.43" r="1.60" fill="#3366ee"/>
<circle cx="206.06" cy="306.18" r="1.60" fill="#3366ee"/>
<circle cx="211.16" cy="302.02" r="1.60" fill="#3366ee"/>
<circle cx="216.98" cy="296.20" r="1.60" fill="#3366ee"/>
<path d="M125.31 315.54V319.70M123.61 315.54H127.01M123.61 319.70H127.01M130.41 319.70V323.86M128.71 319.70H132.10M128.71 323.86H132.10M135.50 322.82V326.98M133.80 322.82H137.20M133.80 326.98H137.20M140.59 324.90V329.06M138.89 324.90H142.29M138.89 329.06H142.29M144.96 324.90V329.06M143.26 324.90H146.66M143.26 329.06H146.66M150.05 323.86V328.02M148.35 323.86H151.75M148.35 328.02H151.75M155.14 323.24V327.40M153.44 323.24H156.84M153.44 327.40H156.84M159.50 322.40V326.56M157.81 322.40H161.20M157.81 326.56H161.20M164.60 321.78V328.02M162.90 321.78H166.30M162.90 328.02H166.30M170.42 322.82V329.06M168.72 322.82H172.12M168.72 329.06H172.12M175.51 321.78V328.02M173.81 321.78H177.21M173.81 328.02H177.21M180.60 320.32V328.64M178.90 320.32H182.30M178.90 328.64H182.30M185.69 319.70V328.02M184.00 319.70H187.39M184.00 328.02H187.39M190.79 318.66V326.98M189.09 318.66H192.49M189.09 326.98H192.49M195.88 316.58V326.98M194.18 316.58H197.58M194.18 326.98H197.58M200.97 315.54V325.94M199.27 315.54H202.67M199.27 325.94H202.67M206.06 314.50V324.90M204.37 314.50H207.76M204.37 324.90H207.76M211.16 313.46V323.86M209.46 313.46H212.86M209.46 323.86H212.86M216.98 311.38V321.78M215.28 311.38H218.68M215.28 321.78H218.68" fill="none" stroke="#bb9944" stroke-width="1.0"/>
<polyline points="125.31,317.62 130.41,321.78 135.50,324.90 140.59,326.98 144.96,326.98 150.05,325.94 155.14,325.32 159.50,324.48 164.60,324.90 170.42,325.94 175.51,324.90 180.60,324.48 185.69,323.86 190.79,322.82 195.88,321.78 200.97,320.74 206.06,319.70 211.16,318.66 216.98,316.58" fill="none" stroke="#bb9944" stroke-width="1.1"/>
<circle cx="125.31" cy="317.62" r="1.60" fill="#bb9944"/>
<circle cx="130.41" cy="321.78" r="1.60" fill="#bb9944"/>
<circle cx="135.50" cy="324.90" r="1.60" fill="#bb9944"/>
<circle cx="140.59" cy="326.98" r="1.60" fill="#bb9944"/>
<circle cx="144.96" cy="326.98" r="1.60" fill="#bb9944"/>
<circle cx="150.05" cy="325.94" r="1.60" fill="#bb9944"/>
<circle cx="155.14" cy="325.32" r="1.60" fill="#bb9944"/>
<circle cx="159.50" cy="324.48" r="1.60" fill="#bb9944"/>
<circle cx="164.60" cy="324.90" r="1.60" fill="#bb9944"/>
<circle cx="170.42" cy="325.94" r="1.60" fill="#bb9944"/>
<circle cx="175.51" cy="324.90" r="1.60" fill="#bb9944"/>
<circle cx="180.60" cy="324.48" r="1.60" fill="#bb9944"/>
<circle cx="185.69" cy="323.86" r="1.60" fill="#bb9944"/>
<circle cx="190.79" cy="322.82" r="1.60" fill="#bb9944"/>
<circle cx="195.88" cy="321.78" r="1.60" fill="#bb9944"/>
<circle cx="200.97" cy="320.74" r="1.60" fill="#bb9944"/>
<circle cx="206.06" cy="319.70" r="1.60" fill="#bb9944"/>
<circle cx="211.16" cy="318.66" r="1.60" fill="#bb9944"/>
<circle cx="216.98" cy="316.58" r="1.60" fill="#bb9944"/>
<path d="M125.31 314.92V319.08M123.61 314.92H127.01M123.61 319.08H127.01M130.41 320.74V324.90M128.71 320.74H132.10M128.71 324.90H132.10M135.50 322.82V326.98M133.80 322.82H137.20M133.80 326.98H137.20M140.59 324.90V329.06M138.89 324.90H142.29M138.89 329.06H142.29M144.96 325.94V330.10M143.26 325.94H146.66M143.26 330.10H146.66M150.05 326.56V330.72M148.35 326.56H151.75M148.35 330.72H151.75M155.14 326.98V331.14M153.44 326.98H156.84M153.44 331.14H156.84M159.50 325.94V330.10M157.81 325.94H161.20M157.81 330.10H161.20M164.60 324.48V329.48M162.90 324.48H166.30M162.90 329.48H166.30M170.42 325.32V330.31M168.72 325.32H172.12M168.72 330.31H172.12M175.51 324.90V329.89M173.81 324.90H177.21M173.81 329.89H177.21M180.60 324.69V330.93M178.90 324.69H182.30M178.90 330.93H182.30M185.69 323.86V330.10M184.00 323.86H187.39M184.00 330.10H187.39M190.79 323.44V329.68M189.09 323.44H192.49M189.09 329.68H192.49M195.88 322.82V329.06M194.18 322.82H197.58M194.18 329.06H197.58M200.97 322.20V328.44M199.27 322.20H202.67M199.27 328.44H202.67M206.06 321.78V328.02M204.37 321.78H207.76M204.37 328.02H207.76M211.16 321.36V327.60M209.46 321.36H212.86M209.46 327.60H212.86M216.98 320.53V326.77M215.28 320.53H218.68M215.28 326.77H218.68" fill="none" stroke="#ccdd33" stroke-width="1.0"/>
<polyline points="125.31,317.00 130.41,322.82 135.50,324.90 140.59,326.98 144.96,328.02 150.05,328.64 155.14,329.06 159.50,328.02 164.60,326.98 170.42,327.81 175.51,327.40 180.60,327.81 185.69,326.98 190.79,326.56 195.88,325.94 200.97,325.32 206.06,324.90 211.16,324.48 216.98,323.65" fill="none" stroke="#ccdd33" stroke-width="1.1"/>
<circle cx="125.31" cy="317.00" r="1.60" fill="#ccdd33"/>
<circle cx="130.41" cy="322.82" r="1.60" fill="#ccdd33"/>
<circle cx="135.50" cy="324.90" r="1.60" fill="#ccdd33"/>
<circle cx="140.59" cy="326.98" r="1.60" fill="#ccdd33"/>
<circle cx="144.96" cy="328.02" r="1.60" fill="#ccdd33"/>
<circle cx="150.05" cy="328.64" r="1.60" fill="#ccdd33"/>
<circle cx="155.14" cy="329.06" r="1.60" fill="#ccdd33"/>
<circle cx="159.50" cy="328.02" r="1.60" fill="#ccdd33"/>
<circle cx="164.60" cy="326.98" r="1.60" fill="#ccdd33"/>
<circle cx="170.42" cy="327.81" r="1.60" fill="#ccdd33"/>
<circle cx="175.51" cy="327.40" r="1.60" fill="#ccdd33"/>
<circle cx="180.60" cy="327.81" r="1.60" fill="#ccdd33"/>
<circle cx="185.69" cy="326.98" r="1.60" fill="#ccdd33"/>
<circle cx="190.79" cy="326.56" r="1.60" fill="#ccdd33"/>
<circle cx="195.88" cy="325.94" r="1.60" fill="#ccdd33"/>
<circle cx="200.97" cy="325.32" r="1.60" fill="#ccdd33"/>
<circle cx="206.06" cy="324.90" r="1.60" fill="#ccdd33"/>
<circle cx="211.16" cy="324.48" r="1.60" fill="#ccdd33"/>
<circle cx="216.98" cy="323.65" r="1.60" fill="#ccdd33"/>
<path d="M125.31 323.24V326.56M123.61 323.24H127.01M123.61 326.56H127.01M130.41 324.07V327.40M128.71 324.07H132.10M128.71 327.40H132.10M135.50 323.65V326.98M133.80 323.65H137.20M133.80 326.98H137.20M140.59 328.44V331.76M138.89 328.44H142.29M138.89 331.76H142.29M144.96 329.27V332.60M143.26 329.27H146.66M143.26 332.60H146.66M150.05 329.89V333.22M148.35 329.89H151.75M148.35 333.22H151.75M155.14 331.14V334.47M153.44 331.14H156.84M153.44 334.47H156.84M159.50 331.97V335.30M157.81 331.97H161.20M157.81 335.30H161.20M164.60 333.01V336.34M162.90 333.01H166.30M162.90 336.34H166.30M170.42 333.64V336.96M168.72 333.64H172.12M168.72 336.96H172.12M175.51 331.76V335.09M173.81 331.76H177.21M173.81 335.09H177.21M180.60 331.76V335.09M178.90 331.76H182.30M178.90 335.09H182.30M185.69 333.01V336.34M184.00 333.01H187.39M184.00 336.34H187.39M190.79 336.34V339.67M189.09 336.34H192.49M189.09 339.67H192.49M195.88 336.34V339.67M194.18 336.34H197.58M194.18 339.67H197.58M200.97 337.59V340.92M199.27 337.59H202.67M199.27 340.92H202.67M206.06 333.01V336.34M204.37 333.01H207.76M204.37 336.34H207.76M211.16 331.97V335.30M209.46 331.97H212.86M209.46 335.30H212.86M216.98 330.31V334.47M215.28 330.31H218.68M215.28 334.47H218.68" fill="none" stroke="#4422dd" stroke-width="1.0"/>
<polyline points="125.31,324.90 130.41,325.73 135.50,325.32 140.59,330.10 144.96,330.93 150.05,331.56 155.14,332.80 159.50,333.64 164.60,334.68 170.42,335.30 175.51,333.43 180.60,333.43 185.69,334.68 190.79,338.00 195.88,338.00 200.97,339.25 206.06,334.68 211.16,333.64 216.98,332.39" fill="none" stroke="#4422dd" stroke-width="1.1"/>
<rect x="123.71" y="323.30" width="3.20" height="3.20" fill="#4422dd"/>
<rect x="128.81" y="324.13" width="3.20" height="3.20" fill="#4422dd"/>
<rect x="133.90" y="323.72" width="3.20" height="3.20" fill="#4422dd"/>
<rect x="138.99" y="328.50" width="3.20" height="3.20" fill="#4422dd"/>
<rect x="143.36" y="329.33" width="3.20" height="3.20" fill="#4422dd"/>
<rect x="148.45" y="329.96" width="3.20" height="3.20" fill="#4422dd"/>
<rect x="153.54" y="331.20" width="3.20" height="3.20" fill="#4422dd"/>
<rect x="157.91" y="332.04" width="3.20" height="3.20" fill="#4422dd"/>
<rect x="163.00" y="333.08" width="3.20" height="3.20" fill="#4422dd"/>
<rect x="168.82" y="333.70" width="3.20" height="3.20" fill="#4422dd"/>
<rect x="173.91" y="331.83" width="3.20" height="3.20" fill="#4422dd"/>
<rect x="179.00" y="331.83" width="3.20" height="3.20" fill="#4422dd"/>
<rect x="184.09" y="333.08" width="3.20" height="3.20" fill="#4422dd"/>
<rect x="189.19" y="336.40" width="3.20" height="3.20" fill="#4422dd"/>
<rect x="194.28" y="336.40" width="3.20" height="3.20" fill="#4422dd"/>
<rect x="199.37" y="337.65" width="3.20" height="3.20" fill="#4422dd"/>
<rect x="204.47" y="333.08" width="3.20" height="3.20" fill="#4422dd"/>
<rect x="209.56" y="332.04" width="3.20" height="3.20" fill="#4422dd"/>
<rect x="215.38" y="330.79" width="3.20" height="3.20" fill="#4422dd"/>
<path d="M125.31 319.70V323.86M123.61 319.70H127.01M123.61 323.86H127.01M130.41 320.74V324.90M128.71 320.74H132.10M128.71 324.90H132.10M135.50 321.16V325.32M133.80 321.16H137.20M133.80 325.32H137.20M140.59 321.78V325.94M138.89 321.78H142.29M138.89 325.94H142.29M144.96 321.78V325.94M143.26 321.78H146.66M143.26 325.94H146.66M150.05 321.78V325.94M148.35 321.78H151.75M148.35 325.94H151.75M155.14 321.57V325.73M153.44 321.57H156.84M153.44 325.73H156.84M159.50 320.74V324.90M157.81 320.74H161.20M157.81 324.90H161.20M164.60 313.46V319.70M162.90 313.46H166.30M162.90 319.70H166.30M170.42 311.38V319.70M168.72 311.38H172.12M168.72 319.70H172.12M175.51 309.72V318.04M173.81 309.72H177.21M173.81 318.04H177.21M180.60 307.64V318.04M178.90 307.64H182.30M178.90 318.04H182.30M185.69 306.18V316.58M184.00 306.18H187.39M184.00 316.58H187.39M190.79 302.85V315.33M189.09 302.85H192.49M189.09 315.33H192.49M195.88 301.60V314.08M194.18 301.60H197.58M194.18 314.08H197.58M200.97 299.94V312.42M199.27 299.94H202.67M199.27 312.42H202.67M206.06 296.82V309.30M204.37 296.82H207.76M204.37 309.30H207.76M211.16 292.24V306.80M209.46 292.24H212.86M209.46 306.80H212.86M216.98 285.59V302.23M215.28 285.59H218.68M215.28 302.23H218.68" fill="none" stroke="#111111" stroke-width="1.0"/>
<polyline points="125.31,321.78 130.41,322.82 135.50,323.24 140.59,323.86 144.96,323.86 150.05,323.86 155.14,323.65 159.50,322.82 164.60,316.58 170.42,315.54 175.51,313.88 180.60,312.84 185.69,311.38 190.79,309.09 195.88,307.84 200.97,306.18 206.06,303.06 211.16,299.52 216.98,293.91" fill="none" stroke="#111111" stroke-width="1.1"/>
<circle cx="125.31" cy="321.78" r="1.60" fill="#111111"/>
<circle cx="130.41" cy="322.82" r="1.60" fill="#111111"/>
<circle cx="135.50" cy="323.24" r="1.60" fill="#111111"/>
<circle cx="140.59" cy="323.86" r="1.60" fill="#111111"/>
<circle cx="144.96" cy="323.86" r="1.60" fill="#111111"/>
<circle cx="150.05" cy="323.86" r="1.60" fill="#111111"/>
<circle cx="155.14" cy="323.65" r="1.60" fill="#111111"/>
<circle cx="159.50" cy="322.82" r="1.60" fill="#111111"/>
<circle cx="164.60" cy="316.58" r="1.60" fill="#111111"/>
<circle cx="170.42" cy="315.54" r="1.60" fill="#111111"/>
<circle cx="175.51" cy="313.88" r="1.60" fill="#111111"/>
<circle cx="180.60" cy="312.84" r="1.60" fill="#111111"/>
<circle cx="185.69" cy="311.38" r="1.60" fill="#111111"/>
<circle cx="190.79" cy="309.09" r="1.60" fill="#111111"/>
<circle cx="195.88" cy="307.84" r="1.60" fill="#111111"/>
<circle cx="200.97" cy="306.18" r="1.60" fill="#111111"/>
<circle cx="206.06" cy="303.06" r="1.60" fill="#111111"/>
<circle cx="211.16" cy="299.52" r="1.60" fill="#111111"/>
<circle cx="216.98" cy="293.91" r="1.60" fill="#111111"/>
<path d="M116.10 231.30V356.10H233.71" fill="none" stroke="#000" stroke-width="0.9"/>
<text transform="translate(112.20 358.01) scale(0.8197 1)" font-size="6.466" font-weight="bold" text-anchor="end" fill="#000" stroke="#000" stroke-width="0.12" >0</text>
<text transform="translate(112.20 316.41) scale(0.8197 1)" font-size="6.466" font-weight="bold" text-anchor="end" fill="#000" stroke="#000" stroke-width="0.12" >200</text>
<text transform="translate(112.20 274.81) scale(0.8197 1)" font-size="6.466" font-weight="bold" text-anchor="end" fill="#000" stroke="#000" stroke-width="0.12" >400</text>
<text transform="translate(112.20 233.21) scale(0.8197 1)" font-size="6.466" font-weight="bold" text-anchor="end" fill="#000" stroke="#000" stroke-width="0.12" >600</text>
<text transform="translate(114.40 364.01) scale(0.8197 1)" font-size="6.466" font-weight="bold" text-anchor="middle" fill="#000" stroke="#000" stroke-width="0.12" >0</text>
<text transform="translate(128.95 364.01) scale(0.8197 1)" font-size="6.466" font-weight="bold" text-anchor="middle" fill="#000" stroke="#000" stroke-width="0.12" >10</text>
<text transform="translate(143.50 364.01) scale(0.8197 1)" font-size="6.466" font-weight="bold" text-anchor="middle" fill="#000" stroke="#000" stroke-width="0.12" >20</text>
<text transform="translate(158.05 364.01) scale(0.8197 1)" font-size="6.466" font-weight="bold" text-anchor="middle" fill="#000" stroke="#000" stroke-width="0.12" >30</text>
<text transform="translate(172.60 364.01) scale(0.8197 1)" font-size="6.466" font-weight="bold" text-anchor="middle" fill="#000" stroke="#000" stroke-width="0.12" >40</text>
<text transform="translate(187.15 364.01) scale(0.8197 1)" font-size="6.466" font-weight="bold" text-anchor="middle" fill="#000" stroke="#000" stroke-width="0.12" >50</text>
<text transform="translate(201.70 364.01) scale(0.8197 1)" font-size="6.466" font-weight="bold" text-anchor="middle" fill="#000" stroke="#000" stroke-width="0.12" >60</text>
<text transform="translate(216.25 364.01) scale(0.8197 1)" font-size="6.466" font-weight="bold" text-anchor="middle" fill="#000" stroke="#000" stroke-width="0.12" >70</text>
<text transform="translate(230.80 364.01) scale(0.8197 1)" font-size="6.466" font-weight="bold" text-anchor="middle" fill="#000" stroke="#000" stroke-width="0.12" >80</text>
<path d="M113.90 356.10H116.10 M114.90 347.78H116.10 M114.90 339.46H116.10 M114.90 331.14H116.10 M114.90 322.82H116.10 M113.90 314.50H116.10 M114.90 306.18H116.10 M114.90 297.86H116.10 M114.90 289.54H116.10 M114.90 281.22H116.10 M113.90 272.90H116.10 M114.90 264.58H116.10 M114.90 256.26H116.10 M114.90 247.94H116.10 M114.90 239.62H116.10 M113.90 231.30H116.10 M114.40 356.10V358.30 M117.31 356.10V357.30 M120.22 356.10V357.30 M123.13 356.10V357.30 M126.04 356.10V357.30 M128.95 356.10V358.30 M131.86 356.10V357.30 M134.77 356.10V357.30 M137.68 356.10V357.30 M140.59 356.10V357.30 M143.50 356.10V358.30 M146.41 356.10V357.30 M149.32 356.10V357.30 M152.23 356.10V357.30 M155.14 356.10V357.30 M158.05 356.10V358.30 M160.96 356.10V357.30 M163.87 356.10V357.30 M166.78 356.10V357.30 M169.69 356.10V357.30 M172.60 356.10V358.30 M175.51 356.10V357.30 M178.42 356.10V357.30 M181.33 356.10V357.30 M184.24 356.10V357.30 M187.15 356.10V358.30 M190.06 356.10V357.30 M192.97 356.10V357.30 M195.88 356.10V357.30 M198.79 356.10V357.30 M201.70 356.10V358.30 M204.61 356.10V357.30 M207.52 356.10V357.30 M210.43 356.10V357.30 M213.34 356.10V357.30 M216.25 356.10V358.30 M219.16 356.10V357.30 M222.07 356.10V357.30 M224.98 356.10V357.30 M227.89 356.10V357.30 M230.80 356.10V358.30" fill="none" stroke="#000" stroke-width="0.7"/>
<text transform="translate(82.60 215.00) scale(0.9091 1)" font-size="13.750" font-weight="bold" text-anchor="start" fill="#000" stroke="#000" stroke-width="0.25" >D</text>
<text transform="translate(155.00 216.30) scale(0.8696 1)" font-size="11.270" font-weight="normal" text-anchor="start" fill="#000" stroke="#000" stroke-width="0.15" >HT-1197</text>
<text transform="translate(94.24 288.00) rotate(-90)" font-size="8.45" font-weight="bold" text-anchor="middle" stroke="#000" stroke-width="0.2">Tumor volume (mm<tspan font-size="5.24" dy="-3.21">3</tspan><tspan dy="3.21">)</tspan></text>
<text x="156.30" y="383.40" font-size="8.8" font-weight="bold" text-anchor="start" fill="#000" stroke="#000" stroke-width="0.2" >Study day</text>
<path d="M123.35 370.30L125.80 365.80L128.25 370.30L126.40 369.70V371.60H125.20V369.70Z" fill="#000"/>
<path d="M134.15 370.30L136.60 365.80L139.05 370.30L137.20 369.70V371.60H136.00V369.70Z" fill="#000"/>
<path d="M145.45 370.30L147.90 365.80L150.35 370.30L148.50 369.70V371.60H147.30V369.70Z" fill="#000"/>
<path d="M154.75 370.30L157.20 365.80L159.65 370.30L157.80 369.70V371.60H156.60V369.70Z" fill="#000"/>
<path d="M164.85 370.30L167.30 365.80L169.75 370.30L167.90 369.70V371.60H166.70V369.70Z" fill="#000"/>
<path d="M121.80 224.80H130.80" stroke="#111111" stroke-width="1"/>
<circle cx="126.30" cy="224.80" r="2.00" fill="#111111"/>
<text transform="translate(134.90 226.98) scale(0.9434 1)" font-size="6.413" font-weight="bold" text-anchor="start" fill="#000" stroke="#000" stroke-width="0.15" >Vehicle</text>
<path d="M121.80 232.79H130.80" stroke="#77e044" stroke-width="1"/>
<circle cx="126.30" cy="232.79" r="2.00" fill="#77e044"/>
<text transform="translate(134.90 234.97) scale(0.9434 1)" font-size="6.413" font-weight="bold" text-anchor="start" fill="#000" stroke="#000" stroke-width="0.15" >IgG control (10 mg/kg)</text>
<path d="M121.80 240.78H130.80" stroke="#ee1111" stroke-width="1"/>
<rect x="124.30" y="238.78" width="4.00" height="4.00" fill="#ee1111"/>
<text transform="translate(134.90 242.96) scale(0.9434 1)" font-size="6.413" font-weight="bold" text-anchor="start" fill="#000" stroke="#000" stroke-width="0.15" >MGA271 (0.1 mg/kg)</text>
<path d="M121.80 248.77H130.80" stroke="#3366ee" stroke-width="1"/>
<circle cx="126.30" cy="248.77" r="2.00" fill="#3366ee"/>
<text transform="translate(134.90 250.95) scale(0.9434 1)" font-size="6.413" font-weight="bold" text-anchor="start" fill="#000" stroke="#000" stroke-width="0.15" >MGA271 (0.5 mg/kg)</text>
<path d="M121.80 256.76H130.80" stroke="#bb9944" stroke-width="1"/>
<circle cx="126.30" cy="256.76" r="2.00" fill="#bb9944"/>
<text transform="translate(134.90 258.94) scale(0.9434 1)" font-size="6.413" font-weight="bold" text-anchor="start" fill="#000" stroke="#000" stroke-width="0.15" >MGA271 (1 mg/kg)</text>
<path d="M121.80 264.75H130.80" stroke="#ccdd33" stroke-width="1"/>
<circle cx="126.30" cy="264.75" r="2.00" fill="#ccdd33"/>
<text transform="translate(134.90 266.93) scale(0.9434 1)" font-size="6.413" font-weight="bold" text-anchor="start" fill="#000" stroke="#000" stroke-width="0.15" >MGA271 (5 mg/kg)</text>
<path d="M121.80 272.74H130.80" stroke="#4422dd" stroke-width="1"/>
<rect x="124.30" y="270.74" width="4.00" height="4.00" fill="#4422dd"/>
<text transform="translate(134.90 274.92) scale(0.9434 1)" font-size="6.413" font-weight="bold" text-anchor="start" fill="#000" stroke="#000" stroke-width="0.15" >MGA271 (10 mg/kg)</text>
<path d="M337.53 335.25V337.16M335.83 335.25H339.23M335.83 337.16H339.23M342.39 334.30V336.21M340.69 334.30H344.09M340.69 336.21H344.09M346.40 332.71V335.25M344.70 332.71H348.10M344.70 335.25H348.10M350.53 329.22V332.40M348.83 329.22H352.23M348.83 332.40H352.23M354.54 326.37V330.17M352.84 326.37H356.24M352.84 330.17H356.24M359.52 322.87V327.32M357.82 322.87H361.22M357.82 327.32H361.22M363.41 320.01V325.09M361.71 320.01H365.11M361.71 325.09H365.11M366.93 316.52V322.24M365.23 316.52H368.63M365.23 322.24H368.63M370.94 313.66V320.01M369.24 313.66H372.64M369.24 320.01H372.64M374.95 316.97V323.32M373.25 316.97H376.65M373.25 323.32H376.65M379.08 305.41V313.03M377.38 305.41H380.78M377.38 313.03H380.78M383.21 297.15V306.04M381.51 297.15H384.91M381.51 306.04H384.91M387.71 293.54V303.70M386.01 293.54H389.41M386.01 303.70H389.41M391.96 286.36V297.79M390.26 286.36H393.66M390.26 297.79H393.66M396.21 279.88V292.58M394.51 279.88H397.91M394.51 292.58H397.91M400.46 272.39V286.36M398.76 272.39H402.16M398.76 286.36H402.16M405.32 262.23V277.47M403.62 262.23H407.02M403.62 277.47H407.02M409.82 255.25V271.75M408.12 255.25H411.52M408.12 271.75H411.52M414.32 252.39V270.17M412.62 252.39H416.02M412.62 270.17H416.02" fill="none" stroke="#111111" stroke-width="1.0"/>
<polyline points="337.53,336.21 342.39,335.25 346.40,333.98 350.53,330.81 354.54,328.27 359.52,325.09 363.41,322.55 366.93,319.38 370.94,316.84 374.95,320.14 379.08,309.22 383.21,301.60 387.71,298.62 391.96,292.07 396.21,286.23 400.46,279.38 405.32,269.85 409.82,263.50 414.32,261.28" fill="none" stroke="#111111" stroke-width="1.1"/>
<circle cx="337.53" cy="336.21" r="1.60" fill="#111111"/>
<circle cx="342.39" cy="335.25" r="1.60" fill="#111111"/>
<circle cx="346.40" cy="333.98" r="1.60" fill="#111111"/>
<circle cx="350.53" cy="330.81" r="1.60" fill="#111111"/>
<circle cx="354.54" cy="328.27" r="1.60" fill="#111111"/>
<circle cx="359.52" cy="325.09" r="1.60" fill="#111111"/>
<circle cx="363.41" cy="322.55" r="1.60" fill="#111111"/>
<circle cx="366.93" cy="319.38" r="1.60" fill="#111111"/>
<circle cx="370.94" cy="316.84" r="1.60" fill="#111111"/>
<circle cx="374.95" cy="320.14" r="1.60" fill="#111111"/>
<circle cx="379.08" cy="309.22" r="1.60" fill="#111111"/>
<circle cx="383.21" cy="301.60" r="1.60" fill="#111111"/>
<circle cx="387.71" cy="298.62" r="1.60" fill="#111111"/>
<circle cx="391.96" cy="292.07" r="1.60" fill="#111111"/>
<circle cx="396.21" cy="286.23" r="1.60" fill="#111111"/>
<circle cx="400.46" cy="279.38" r="1.60" fill="#111111"/>
<circle cx="405.32" cy="269.85" r="1.60" fill="#111111"/>
<circle cx="409.82" cy="263.50" r="1.60" fill="#111111"/>
<circle cx="414.32" cy="261.28" r="1.60" fill="#111111"/>
<path d="M337.53 335.25V337.16M335.83 335.25H339.23M335.83 337.16H339.23M342.39 334.30V336.21M340.69 334.30H344.09M340.69 336.21H344.09M346.40 333.03V335.57M344.70 333.03H348.10M344.70 335.57H348.10M350.53 329.86V333.03M348.83 329.86H352.23M348.83 333.03H352.23M354.54 327.00V330.81M352.84 327.00H356.24M352.84 330.81H356.24M359.52 324.14V328.59M357.82 324.14H361.22M357.82 328.59H361.22M363.41 321.28V326.37M361.71 321.28H365.11M361.71 326.37H365.11M366.93 318.43V324.14M365.23 318.43H368.63M365.23 324.14H368.63M370.94 315.57V321.92M369.24 315.57H372.64M369.24 321.92H372.64M374.95 316.20V322.56M373.25 316.20H376.65M373.25 322.56H376.65M379.08 307.95V315.57M377.38 307.95H380.78M377.38 315.57H380.78M383.21 300.33V309.22M381.51 300.33H384.91M381.51 309.22H384.91M387.71 295.25V305.41M386.01 295.25H389.41M386.01 305.41H389.41M391.96 289.54V300.96M390.26 289.54H393.66M390.26 300.96H393.66M396.21 282.55V295.25M394.51 282.55H397.91M394.51 295.25H397.91M400.46 275.56V289.53M398.76 275.56H402.16M398.76 289.53H402.16M405.32 268.58V283.82M403.62 268.58H407.02M403.62 283.82H407.02M409.82 261.59V278.10M408.12 261.59H411.52M408.12 278.10H411.52M414.32 257.78V275.56M412.62 257.78H416.02M412.62 275.56H416.02" fill="none" stroke="#88dd66" stroke-width="1.0"/>
<polyline points="337.53,336.21 342.39,335.25 346.40,334.30 350.53,331.44 354.54,328.90 359.52,326.36 363.41,323.82 366.93,321.28 370.94,318.75 374.95,319.38 379.08,311.76 383.21,304.77 387.71,300.33 391.96,295.25 396.21,288.90 400.46,282.55 405.32,276.20 409.82,269.85 414.32,266.67" fill="none" stroke="#88dd66" stroke-width="1.1"/>
<circle cx="337.53" cy="336.21" r="1.60" fill="#88dd66"/>
<circle cx="342.39" cy="335.25" r="1.60" fill="#88dd66"/>
<circle cx="346.40" cy="334.30" r="1.60" fill="#88dd66"/>
<circle cx="350.53" cy="331.44" r="1.60" fill="#88dd66"/>
<circle cx="354.54" cy="328.90" r="1.60" fill="#88dd66"/>
<circle cx="359.52" cy="326.36" r="1.60" fill="#88dd66"/>
<circle cx="363.41" cy="323.82" r="1.60" fill="#88dd66"/>
<circle cx="366.93" cy="321.28" r="1.60" fill="#88dd66"/>
<circle cx="370.94" cy="318.75" r="1.60" fill="#88dd66"/>
<circle cx="374.95" cy="319.38" r="1.60" fill="#88dd66"/>
<circle cx="379.08" cy="311.76" r="1.60" fill="#88dd66"/>
<circle cx="383.21" cy="304.77" r="1.60" fill="#88dd66"/>
<circle cx="387.71" cy="300.33" r="1.60" fill="#88dd66"/>
<circle cx="391.96" cy="295.25" r="1.60" fill="#88dd66"/>
<circle cx="396.21" cy="288.90" r="1.60" fill="#88dd66"/>
<circle cx="400.46" cy="282.55" r="1.60" fill="#88dd66"/>
<circle cx="405.32" cy="276.20" r="1.60" fill="#88dd66"/>
<circle cx="409.82" cy="269.85" r="1.60" fill="#88dd66"/>
<circle cx="414.32" cy="266.67" r="1.60" fill="#88dd66"/>
<path d="M337.53 334.62V336.52M335.83 334.62H339.23M335.83 336.52H339.23M342.39 333.03V335.57M340.69 333.03H344.09M340.69 335.57H344.09M346.40 330.81V334.62M344.70 330.81H348.10M344.70 334.62H348.10M350.53 326.68V331.76M348.83 326.68H352.23M348.83 331.76H352.23M354.54 320.65V328.27M352.84 320.65H356.24M352.84 328.27H356.24M359.52 314.30V324.46M357.82 314.30H361.22M357.82 324.46H361.22M363.41 309.85V322.56M361.71 309.85H365.11M361.71 322.56H365.11M366.93 307.51V321.48M365.23 307.51H368.63M365.23 321.48H368.63M370.94 304.77V320.01M369.24 304.77H372.64M369.24 320.01H372.64M374.95 302.23V318.74M373.25 302.23H376.65M373.25 318.74H376.65M379.08 296.52V314.30M377.38 296.52H380.78M377.38 314.30H380.78M383.21 285.73V304.77M381.51 285.73H384.91M381.51 304.77H384.91M387.71 278.74V299.06M386.01 278.74H389.41M386.01 299.06H389.41M391.96 273.09V294.68M390.26 273.09H393.66M390.26 294.68H393.66M396.21 270.29V293.15M394.51 270.29H397.91M394.51 293.15H397.91M400.46 264.39V289.79M398.76 264.39H402.16M398.76 289.79H402.16M405.32 256.45V284.39M403.62 256.45H407.02M403.62 284.39H407.02M409.82 248.39V278.87M408.12 248.39H411.52M408.12 278.87H411.52M414.32 243.12V274.87M412.62 243.12H416.02M412.62 274.87H416.02" fill="none" stroke="#6633dd" stroke-width="1.0"/>
<polyline points="337.53,335.57 342.39,334.30 346.40,332.71 350.53,329.22 354.54,324.46 359.52,319.38 363.41,316.20 366.93,314.49 370.94,312.39 374.95,310.49 379.08,305.41 383.21,295.25 387.71,288.90 391.96,283.88 396.21,281.72 400.46,277.09 405.32,270.42 409.82,263.63 414.32,258.99" fill="none" stroke="#6633dd" stroke-width="1.1"/>
<circle cx="337.53" cy="335.57" r="1.60" fill="#6633dd"/>
<circle cx="342.39" cy="334.30" r="1.60" fill="#6633dd"/>
<circle cx="346.40" cy="332.71" r="1.60" fill="#6633dd"/>
<circle cx="350.53" cy="329.22" r="1.60" fill="#6633dd"/>
<circle cx="354.54" cy="324.46" r="1.60" fill="#6633dd"/>
<circle cx="359.52" cy="319.38" r="1.60" fill="#6633dd"/>
<circle cx="363.41" cy="316.20" r="1.60" fill="#6633dd"/>
<circle cx="366.93" cy="314.49" r="1.60" fill="#6633dd"/>
<circle cx="370.94" cy="312.39" r="1.60" fill="#6633dd"/>
<circle cx="374.95" cy="310.49" r="1.60" fill="#6633dd"/>
<circle cx="379.08" cy="305.41" r="1.60" fill="#6633dd"/>
<circle cx="383.21" cy="295.25" r="1.60" fill="#6633dd"/>
<circle cx="387.71" cy="288.90" r="1.60" fill="#6633dd"/>
<circle cx="391.96" cy="283.88" r="1.60" fill="#6633dd"/>
<circle cx="396.21" cy="281.72" r="1.60" fill="#6633dd"/>
<circle cx="400.46" cy="277.09" r="1.60" fill="#6633dd"/>
<circle cx="405.32" cy="270.42" r="1.60" fill="#6633dd"/>
<circle cx="409.82" cy="263.63" r="1.60" fill="#6633dd"/>
<circle cx="414.32" cy="258.99" r="1.60" fill="#6633dd"/>
<path d="M337.53 335.25V337.16M335.83 335.25H339.23M335.83 337.16H339.23M342.39 334.62V336.52M340.69 334.62H344.09M340.69 336.52H344.09M346.40 333.35V335.89M344.70 333.35H348.10M344.70 335.89H348.10M350.53 330.49V333.67M348.83 330.49H352.23M348.83 333.67H352.23M354.54 328.27V332.08M352.84 328.27H356.24M352.84 332.08H356.24M359.52 326.05V330.49M357.82 326.05H361.22M357.82 330.49H361.22M363.41 323.82V328.90M361.71 323.82H365.11M361.71 328.90H365.11M366.93 321.60V327.32M365.23 321.60H368.63M365.23 327.32H368.63M370.94 319.38V325.73M369.24 319.38H372.64M369.24 325.73H372.64M374.95 319.25V325.60M373.25 319.25H376.65M373.25 325.60H376.65M379.08 313.03V320.65M377.38 313.03H380.78M377.38 320.65H380.78M383.21 308.58V317.47M381.51 308.58H384.91M381.51 317.47H384.91M387.71 304.90V315.06M386.01 304.90H389.41M386.01 315.06H389.41M391.96 298.43V309.85M390.26 298.43H393.66M390.26 309.85H393.66M396.21 292.07V304.77M394.51 292.07H397.91M394.51 304.77H397.91M400.46 288.26V302.24M398.76 288.26H402.16M398.76 302.24H402.16M405.32 283.82V299.06M403.62 283.82H407.02M403.62 299.06H407.02M409.82 279.38V295.88M408.12 279.38H411.52M408.12 295.88H411.52M414.32 274.99V292.77M412.62 274.99H416.02M412.62 292.77H416.02" fill="none" stroke="#3366cc" stroke-width="1.0"/>
<polyline points="337.53,336.21 342.39,335.57 346.40,334.62 350.53,332.08 354.54,330.17 359.52,328.27 363.41,326.36 366.93,324.46 370.94,322.55 374.95,322.43 379.08,316.84 383.21,313.03 387.71,309.98 391.96,304.14 396.21,298.42 400.46,295.25 405.32,291.44 409.82,287.63 414.32,283.88" fill="none" stroke="#3366cc" stroke-width="1.1"/>
<circle cx="337.53" cy="336.21" r="1.60" fill="#3366cc"/>
<circle cx="342.39" cy="335.57" r="1.60" fill="#3366cc"/>
<circle cx="346.40" cy="334.62" r="1.60" fill="#3366cc"/>
<circle cx="350.53" cy="332.08" r="1.60" fill="#3366cc"/>
<circle cx="354.54" cy="330.17" r="1.60" fill="#3366cc"/>
<circle cx="359.52" cy="328.27" r="1.60" fill="#3366cc"/>
<circle cx="363.41" cy="326.36" r="1.60" fill="#3366cc"/>
<circle cx="366.93" cy="324.46" r="1.60" fill="#3366cc"/>
<circle cx="370.94" cy="322.55" r="1.60" fill="#3366cc"/>
<circle cx="374.95" cy="322.43" r="1.60" fill="#3366cc"/>
<circle cx="379.08" cy="316.84" r="1.60" fill="#3366cc"/>
<circle cx="383.21" cy="313.03" r="1.60" fill="#3366cc"/>
<circle cx="387.71" cy="309.98" r="1.60" fill="#3366cc"/>
<circle cx="391.96" cy="304.14" r="1.60" fill="#3366cc"/>
<circle cx="396.21" cy="298.42" r="1.60" fill="#3366cc"/>
<circle cx="400.46" cy="295.25" r="1.60" fill="#3366cc"/>
<circle cx="405.32" cy="291.44" r="1.60" fill="#3366cc"/>
<circle cx="409.82" cy="287.63" r="1.60" fill="#3366cc"/>
<circle cx="414.32" cy="283.88" r="1.60" fill="#3366cc"/>
<path d="M337.53 335.25V337.16M335.83 335.25H339.23M335.83 337.16H339.23M342.39 334.81V336.72M340.69 334.81H344.09M340.69 336.72H344.09M346.40 333.67V336.21M344.70 333.67H348.10M344.70 336.21H348.10M350.53 331.76V334.94M348.83 331.76H352.23M348.83 334.94H352.23M354.54 330.18V333.98M352.84 330.18H356.24M352.84 333.98H356.24M359.52 328.59V333.03M357.82 328.59H361.22M357.82 333.03H361.22M363.41 327.00V332.08M361.71 327.00H365.11M361.71 332.08H365.11M366.93 325.41V331.13M365.23 325.41H368.63M365.23 331.13H368.63M370.94 323.82V330.18M369.24 323.82H372.64M369.24 330.18H372.64M374.95 323.82V330.18M373.25 323.82H376.65M373.25 330.18H376.65M379.08 320.01V327.63M377.38 320.01H380.78M377.38 327.63H380.78M383.21 314.94V323.82M381.51 314.94H384.91M381.51 323.82H384.91M387.71 311.76V321.92M386.01 311.76H389.41M386.01 321.92H389.41M391.96 308.78V320.21M390.26 308.78H393.66M390.26 320.21H393.66M396.21 304.77V317.48M394.51 304.77H397.91M394.51 317.48H397.91M400.46 300.71V314.68M398.76 300.71H402.16M398.76 314.68H402.16M405.32 295.25V310.49M403.62 295.25H407.02M403.62 310.49H407.02M409.82 290.36V306.87M408.12 290.36H411.52M408.12 306.87H411.52M414.32 281.79V299.57M412.62 281.79H416.02M412.62 299.57H416.02" fill="none" stroke="#ccaa55" stroke-width="1.0"/>
<polyline points="337.53,336.21 342.39,335.76 346.40,334.94 350.53,333.35 354.54,332.08 359.52,330.81 363.41,329.54 366.93,328.27 370.94,327.00 374.95,327.00 379.08,323.82 383.21,319.38 387.71,316.84 391.96,314.49 396.21,311.12 400.46,307.70 405.32,302.87 409.82,298.62 414.32,290.68" fill="none" stroke="#ccaa55" stroke-width="1.1"/>
<circle cx="337.53" cy="336.21" r="1.60" fill="#ccaa55"/>
<circle cx="342.39" cy="335.76" r="1.60" fill="#ccaa55"/>
<circle cx="346.40" cy="334.94" r="1.60" fill="#ccaa55"/>
<circle cx="350.53" cy="333.35" r="1.60" fill="#ccaa55"/>
<circle cx="354.54" cy="332.08" r="1.60" fill="#ccaa55"/>
<circle cx="359.52" cy="330.81" r="1.60" fill="#ccaa55"/>
<circle cx="363.41" cy="329.54" r="1.60" fill="#ccaa55"/>
<circle cx="366.93" cy="328.27" r="1.60" fill="#ccaa55"/>
<circle cx="370.94" cy="327.00" r="1.60" fill="#ccaa55"/>
<circle cx="374.95" cy="327.00" r="1.60" fill="#ccaa55"/>
<circle cx="379.08" cy="323.82" r="1.60" fill="#ccaa55"/>
<circle cx="383.21" cy="319.38" r="1.60" fill="#ccaa55"/>
<circle cx="387.71" cy="316.84" r="1.60" fill="#ccaa55"/>
<circle cx="391.96" cy="314.49" r="1.60" fill="#ccaa55"/>
<circle cx="396.21" cy="311.12" r="1.60" fill="#ccaa55"/>
<circle cx="400.46" cy="307.70" r="1.60" fill="#ccaa55"/>
<circle cx="405.32" cy="302.87" r="1.60" fill="#ccaa55"/>
<circle cx="409.82" cy="298.62" r="1.60" fill="#ccaa55"/>
<circle cx="414.32" cy="290.68" r="1.60" fill="#ccaa55"/>
<path d="M337.53 334.81V336.72M335.83 334.81H339.23M335.83 336.72H339.23M342.39 333.67V335.57M340.69 333.67H344.09M340.69 335.57H344.09M346.40 333.03V335.57M344.70 333.03H348.10M344.70 335.57H348.10M350.53 331.76V334.94M348.83 331.76H352.23M348.83 334.94H352.23M354.54 330.81V334.62M352.84 330.81H356.24M352.84 334.62H356.24M359.52 329.86V334.30M357.82 329.86H361.22M357.82 334.30H361.22M363.41 329.54V334.62M361.71 329.54H365.11M361.71 334.62H365.11M366.93 328.59V334.30M365.23 328.59H368.63M365.23 334.30H368.63M370.94 328.27V334.62M369.24 328.27H372.64M369.24 334.62H372.64M374.95 327.63V333.99M373.25 327.63H376.65M373.25 333.99H376.65M379.08 326.68V333.67M377.38 326.68H380.78M377.38 333.67H380.78M383.21 325.09V332.71M381.51 325.09H384.91M381.51 332.71H384.91M387.71 324.46V332.08M386.01 324.46H389.41M386.01 332.08H389.41M391.96 324.27V331.89M390.26 324.27H393.66M390.26 331.89H393.66M396.21 324.27V331.89M394.51 324.27H397.91M394.51 331.89H397.91M400.46 324.27V331.89M398.76 324.27H402.16M398.76 331.89H402.16M405.32 324.27V331.89M403.62 324.27H407.02M403.62 331.89H407.02M409.82 324.27V331.89M408.12 324.27H411.52M408.12 331.89H411.52M414.32 324.27V331.89M412.62 324.27H416.02M412.62 331.89H416.02" fill="none" stroke="#ee7733" stroke-width="1.0"/>
<polyline points="337.53,335.76 342.39,334.62 346.40,334.30 350.53,333.35 354.54,332.71 359.52,332.08 363.41,332.08 366.93,331.44 370.94,331.44 374.95,330.81 379.08,330.17 383.21,328.90 387.71,328.27 391.96,328.08 396.21,328.08 400.46,328.08 405.32,328.08 409.82,328.08 414.32,328.08" fill="none" stroke="#ee7733" stroke-width="1.1"/>
<circle cx="337.53" cy="335.76" r="1.60" fill="#ee7733"/>
<circle cx="342.39" cy="334.62" r="1.60" fill="#ee7733"/>
<circle cx="346.40" cy="334.30" r="1.60" fill="#ee7733"/>
<circle cx="350.53" cy="333.35" r="1.60" fill="#ee7733"/>
<circle cx="354.54" cy="332.71" r="1.60" fill="#ee7733"/>
<circle cx="359.52" cy="332.08" r="1.60" fill="#ee7733"/>
<circle cx="363.41" cy="332.08" r="1.60" fill="#ee7733"/>
<circle cx="366.93" cy="331.44" r="1.60" fill="#ee7733"/>
<circle cx="370.94" cy="331.44" r="1.60" fill="#ee7733"/>
<circle cx="374.95" cy="330.81" r="1.60" fill="#ee7733"/>
<circle cx="379.08" cy="330.17" r="1.60" fill="#ee7733"/>
<circle cx="383.21" cy="328.90" r="1.60" fill="#ee7733"/>
<circle cx="387.71" cy="328.27" r="1.60" fill="#ee7733"/>
<circle cx="391.96" cy="328.08" r="1.60" fill="#ee7733"/>
<circle cx="396.21" cy="328.08" r="1.60" fill="#ee7733"/>
<circle cx="400.46" cy="328.08" r="1.60" fill="#ee7733"/>
<circle cx="405.32" cy="328.08" r="1.60" fill="#ee7733"/>
<circle cx="409.82" cy="328.08" r="1.60" fill="#ee7733"/>
<circle cx="414.32" cy="328.08" r="1.60" fill="#ee7733"/>
<path d="M337.53 334.56V336.46M335.83 334.56H339.23M335.83 336.46H339.23M342.39 333.67V335.57M340.69 333.67H344.09M340.69 335.57H344.09M346.40 332.71V335.25M344.70 332.71H348.10M344.70 335.25H348.10M350.53 331.76V334.94M348.83 331.76H352.23M348.83 334.94H352.23M354.54 330.81V334.62M352.84 330.81H356.24M352.84 334.62H356.24M359.52 329.22V333.67M357.82 329.22H361.22M357.82 333.67H361.22M363.41 328.27V333.35M361.71 328.27H365.11M361.71 333.35H365.11M366.93 327.44V333.16M365.23 327.44H368.63M365.23 333.16H368.63M370.94 325.09V331.44M369.24 325.09H372.64M369.24 331.44H372.64M374.95 323.82V330.18M373.25 323.82H376.65M373.25 330.18H376.65M379.08 320.90V328.52M377.38 320.90H380.78M377.38 328.52H380.78M383.21 319.38V328.27M381.51 319.38H384.91M381.51 328.27H384.91M387.71 317.35V327.51M386.01 317.35H389.41M386.01 327.51H389.41M391.96 315.57V327.00M390.26 315.57H393.66M390.26 327.00H393.66M396.21 314.43V325.86M394.51 314.43H397.91M394.51 325.86H397.91M400.46 312.39V323.82M398.76 312.39H402.16M398.76 323.82H402.16M405.32 311.00V322.43M403.62 311.00H407.02M403.62 322.43H407.02M409.82 305.41V316.84M408.12 305.41H411.52M408.12 316.84H411.52M414.32 306.49V317.92M412.62 306.49H416.02M412.62 317.92H416.02" fill="none" stroke="#dd2222" stroke-width="1.0"/>
<polyline points="337.53,335.51 342.39,334.62 346.40,333.98 350.53,333.35 354.54,332.71 359.52,331.44 363.41,330.81 366.93,330.30 370.94,328.27 374.95,327.00 379.08,324.71 383.21,323.82 387.71,322.43 391.96,321.28 396.21,320.14 400.46,318.11 405.32,316.71 409.82,311.12 414.32,312.20" fill="none" stroke="#dd2222" stroke-width="1.1"/>
<rect x="335.93" y="333.91" width="3.20" height="3.20" fill="#dd2222"/>
<rect x="340.79" y="333.02" width="3.20" height="3.20" fill="#dd2222"/>
<rect x="344.80" y="332.38" width="3.20" height="3.20" fill="#dd2222"/>
<rect x="348.93" y="331.75" width="3.20" height="3.20" fill="#dd2222"/>
<rect x="352.94" y="331.11" width="3.20" height="3.20" fill="#dd2222"/>
<rect x="357.92" y="329.84" width="3.20" height="3.20" fill="#dd2222"/>
<rect x="361.81" y="329.21" width="3.20" height="3.20" fill="#dd2222"/>
<rect x="365.33" y="328.70" width="3.20" height="3.20" fill="#dd2222"/>
<rect x="369.34" y="326.67" width="3.20" height="3.20" fill="#dd2222"/>
<rect x="373.35" y="325.40" width="3.20" height="3.20" fill="#dd2222"/>
<rect x="377.48" y="323.11" width="3.20" height="3.20" fill="#dd2222"/>
<rect x="381.61" y="322.22" width="3.20" height="3.20" fill="#dd2222"/>
<rect x="386.11" y="320.83" width="3.20" height="3.20" fill="#dd2222"/>
<rect x="390.36" y="319.68" width="3.20" height="3.20" fill="#dd2222"/>
<rect x="394.61" y="318.54" width="3.20" height="3.20" fill="#dd2222"/>
<rect x="398.86" y="316.51" width="3.20" height="3.20" fill="#dd2222"/>
<rect x="403.72" y="315.11" width="3.20" height="3.20" fill="#dd2222"/>
<rect x="408.22" y="309.52" width="3.20" height="3.20" fill="#dd2222"/>
<rect x="412.72" y="310.60" width="3.20" height="3.20" fill="#dd2222"/>
<path d="M315.20 225.40V352.40H425.37" fill="none" stroke="#000" stroke-width="0.9"/>
<text transform="translate(311.30 354.56) scale(0.8929 1)" font-size="6.720" font-weight="bold" text-anchor="end" fill="#000" stroke="#000" stroke-width="0.12" >0</text>
<text transform="translate(311.30 338.69) scale(0.8929 1)" font-size="6.720" font-weight="bold" text-anchor="end" fill="#000" stroke="#000" stroke-width="0.12" >250</text>
<text transform="translate(311.30 322.81) scale(0.8929 1)" font-size="6.720" font-weight="bold" text-anchor="end" fill="#000" stroke="#000" stroke-width="0.12" >500</text>
<text transform="translate(311.30 306.94) scale(0.8929 1)" font-size="6.720" font-weight="bold" text-anchor="end" fill="#000" stroke="#000" stroke-width="0.12" >750</text>
<text transform="translate(311.30 291.06) scale(0.8929 1)" font-size="6.720" font-weight="bold" text-anchor="end" fill="#000" stroke="#000" stroke-width="0.12" >1,000</text>
<text transform="translate(311.30 275.19) scale(0.8929 1)" font-size="6.720" font-weight="bold" text-anchor="end" fill="#000" stroke="#000" stroke-width="0.12" >1,250</text>
<text transform="translate(311.30 259.31) scale(0.8929 1)" font-size="6.720" font-weight="bold" text-anchor="end" fill="#000" stroke="#000" stroke-width="0.12" >1,500</text>
<text transform="translate(311.30 243.43) scale(0.8929 1)" font-size="6.720" font-weight="bold" text-anchor="end" fill="#000" stroke="#000" stroke-width="0.12" >1,750</text>
<text transform="translate(311.30 227.56) scale(0.8929 1)" font-size="6.720" font-weight="bold" text-anchor="end" fill="#000" stroke="#000" stroke-width="0.12" >2,000</text>
<text transform="translate(314.20 361.06) scale(0.8929 1)" font-size="6.720" font-weight="bold" text-anchor="middle" fill="#000" stroke="#000" stroke-width="0.12" >0</text>
<text transform="translate(326.35 361.06) scale(0.8929 1)" font-size="6.720" font-weight="bold" text-anchor="middle" fill="#000" stroke="#000" stroke-width="0.12" >10</text>
<text transform="translate(338.50 361.06) scale(0.8929 1)" font-size="6.720" font-weight="bold" text-anchor="middle" fill="#000" stroke="#000" stroke-width="0.12" >20</text>
<text transform="translate(350.65 361.06) scale(0.8929 1)" font-size="6.720" font-weight="bold" text-anchor="middle" fill="#000" stroke="#000" stroke-width="0.12" >30</text>
<text transform="translate(362.80 361.06) scale(0.8929 1)" font-size="6.720" font-weight="bold" text-anchor="middle" fill="#000" stroke="#000" stroke-width="0.12" >40</text>
<text transform="translate(374.95 361.06) scale(0.8929 1)" font-size="6.720" font-weight="bold" text-anchor="middle" fill="#000" stroke="#000" stroke-width="0.12" >50</text>
<text transform="translate(387.10 361.06) scale(0.8929 1)" font-size="6.720" font-weight="bold" text-anchor="middle" fill="#000" stroke="#000" stroke-width="0.12" >60</text>
<text transform="translate(399.25 361.06) scale(0.8929 1)" font-size="6.720" font-weight="bold" text-anchor="middle" fill="#000" stroke="#000" stroke-width="0.12" >70</text>
<text transform="translate(411.40 361.06) scale(0.8929 1)" font-size="6.720" font-weight="bold" text-anchor="middle" fill="#000" stroke="#000" stroke-width="0.12" >80</text>
<text transform="translate(423.55 361.06) scale(0.8929 1)" font-size="6.720" font-weight="bold" text-anchor="middle" fill="#000" stroke="#000" stroke-width="0.12" >90</text>
<path d="M313.00 352.40H315.20 M314.00 349.22H315.20 M314.00 346.05H315.20 M314.00 342.88H315.20 M314.00 339.70H315.20 M313.00 336.52H315.20 M314.00 333.35H315.20 M314.00 330.17H315.20 M314.00 327.00H315.20 M314.00 323.82H315.20 M313.00 320.65H315.20 M314.00 317.47H315.20 M314.00 314.30H315.20 M314.00 311.12H315.20 M314.00 307.95H315.20 M313.00 304.77H315.20 M314.00 301.60H315.20 M314.00 298.42H315.20 M314.00 295.25H315.20 M314.00 292.07H315.20 M313.00 288.90H315.20 M314.00 285.72H315.20 M314.00 282.55H315.20 M314.00 279.38H315.20 M314.00 276.20H315.20 M313.00 273.02H315.20 M314.00 269.85H315.20 M314.00 266.67H315.20 M314.00 263.50H315.20 M314.00 260.32H315.20 M313.00 257.15H315.20 M314.00 253.97H315.20 M314.00 250.80H315.20 M314.00 247.62H315.20 M314.00 244.45H315.20 M313.00 241.27H315.20 M314.00 238.10H315.20 M314.00 234.92H315.20 M314.00 231.75H315.20 M314.00 228.57H315.20 M313.00 225.40H315.20 M314.20 352.40V354.60 M316.63 352.40V353.60 M319.06 352.40V353.60 M321.49 352.40V353.60 M323.92 352.40V353.60 M326.35 352.40V354.60 M328.78 352.40V353.60 M331.21 352.40V353.60 M333.64 352.40V353.60 M336.07 352.40V353.60 M338.50 352.40V354.60 M340.93 352.40V353.60 M343.36 352.40V353.60 M345.79 352.40V353.60 M348.22 352.40V353.60 M350.65 352.40V354.60 M353.08 352.40V353.60 M355.51 352.40V353.60 M357.94 352.40V353.60 M360.37 352.40V353.60 M362.80 352.40V354.60 M365.23 352.40V353.60 M367.66 352.40V353.60 M370.09 352.40V353.60 M372.52 352.40V353.60 M374.95 352.40V354.60 M377.38 352.40V353.60 M379.81 352.40V353.60 M382.24 352.40V353.60 M384.67 352.40V353.60 M387.10 352.40V354.60 M389.53 352.40V353.60 M391.96 352.40V353.60 M394.39 352.40V353.60 M396.82 352.40V353.60 M399.25 352.40V354.60 M401.68 352.40V353.60 M404.11 352.40V353.60 M406.54 352.40V353.60 M408.97 352.40V353.60 M411.40 352.40V354.60 M413.83 352.40V353.60 M416.26 352.40V353.60 M418.69 352.40V353.60 M421.12 352.40V353.60 M423.55 352.40V354.60" fill="none" stroke="#000" stroke-width="0.7"/>
<text transform="translate(270.60 215.00) scale(0.9091 1)" font-size="13.750" font-weight="bold" text-anchor="start" fill="#000" stroke="#000" stroke-width="0.25" >E</text>
<text transform="translate(358.10 215.60) scale(0.8696 1)" font-size="11.270" font-weight="normal" text-anchor="start" fill="#000" stroke="#000" stroke-width="0.15" >786-0</text>
<text transform="translate(288.32 285.20) rotate(-90)" font-size="8.1" font-weight="bold" text-anchor="middle" stroke="#000" stroke-width="0.2">Tumor volume (mm<tspan font-size="5.02" dy="-3.08">3</tspan><tspan dy="3.08">)</tspan></text>
<text x="352.60" y="383.40" font-size="8.8" font-weight="bold" text-anchor="start" fill="#000" stroke="#000" stroke-width="0.2" >Study day</text>
<path d="M337.95 368.50L340.40 364.00L342.85 368.50L341.00 367.90V369.40H339.80V367.90Z" fill="#000"/>
<path d="M346.55 368.50L349.00 364.00L351.45 368.50L349.60 367.90V369.40H348.40V367.90Z" fill="#000"/>
<path d="M354.85 368.50L357.30 364.00L359.75 368.50L357.90 367.90V369.40H356.70V367.90Z" fill="#000"/>
<path d="M363.15 368.50L365.60 364.00L368.05 368.50L366.20 367.90V369.40H365.00V367.90Z" fill="#000"/>
<path d="M371.95 368.50L374.40 364.00L376.85 368.50L375.00 367.90V369.40H373.80V367.90Z" fill="#000"/>
<path d="M380.55 368.50L383.00 364.00L385.45 368.50L383.60 367.90V369.40H382.40V367.90Z" fill="#000"/>
<path d="M389.05 368.50L391.50 364.00L393.95 368.50L392.10 367.90V369.40H390.90V367.90Z" fill="#000"/>
<path d="M397.35 368.50L399.80 364.00L402.25 368.50L400.40 367.90V369.40H399.20V367.90Z" fill="#000"/>
<path d="M319.80 220.80H328.40" stroke="#111111" stroke-width="1"/>
<circle cx="324.10" cy="220.80" r="2.00" fill="#111111"/>
<text transform="translate(332.30 222.96) scale(0.9434 1)" font-size="6.360" font-weight="bold" text-anchor="start" fill="#000" stroke="#000" stroke-width="0.15" >Vehicle</text>
<path d="M319.80 229.02H328.40" stroke="#88dd66" stroke-width="1"/>
<circle cx="324.10" cy="229.02" r="2.00" fill="#88dd66"/>
<text transform="translate(332.30 231.18) scale(0.9434 1)" font-size="6.360" font-weight="bold" text-anchor="start" fill="#000" stroke="#000" stroke-width="0.15" >IgG Control (5 mg/kg)</text>
<path d="M319.80 237.24H328.40" stroke="#6633dd" stroke-width="1"/>
<circle cx="324.10" cy="237.24" r="2.00" fill="#6633dd"/>
<text transform="translate(332.30 239.40) scale(0.9434 1)" font-size="6.360" font-weight="bold" text-anchor="start" fill="#000" stroke="#000" stroke-width="0.15" >MGA271 (0.1 mg/kg)</text>
<path d="M319.80 245.46H328.40" stroke="#3366cc" stroke-width="1"/>
<circle cx="324.10" cy="245.46" r="2.00" fill="#3366cc"/>
<text transform="translate(332.30 247.62) scale(0.9434 1)" font-size="6.360" font-weight="bold" text-anchor="start" fill="#000" stroke="#000" stroke-width="0.15" >MGA271 (0.5 mg/kg)</text>
<path d="M319.80 253.68H328.40" stroke="#ccaa55" stroke-width="1"/>
<circle cx="324.10" cy="253.68" r="2.00" fill="#ccaa55"/>
<text transform="translate(332.30 255.84) scale(0.9434 1)" font-size="6.360" font-weight="bold" text-anchor="start" fill="#000" stroke="#000" stroke-width="0.15" >MGA271 (1 mg/kg)</text>
<path d="M319.80 261.90H328.40" stroke="#ee7733" stroke-width="1"/>
<circle cx="324.10" cy="261.90" r="2.00" fill="#ee7733"/>
<text transform="translate(332.30 264.06) scale(0.9434 1)" font-size="6.360" font-weight="bold" text-anchor="start" fill="#000" stroke="#000" stroke-width="0.15" >MGA271 (5 mg/kg)</text>
<path d="M319.80 270.12H328.40" stroke="#dd2222" stroke-width="1"/>
<rect x="322.10" y="268.12" width="4.00" height="4.00" fill="#dd2222"/>
<text transform="translate(332.30 272.28) scale(0.9434 1)" font-size="6.360" font-weight="bold" text-anchor="start" fill="#000" stroke="#000" stroke-width="0.15" >MGA271 (10 mg/kg)</text>
<path d="M98.40 151.00V159.00M96.90 151.00H99.90M96.90 159.00H99.90" stroke="#111" stroke-width="1"/>
<circle cx="98.40" cy="152.80" r="1.5" fill="#111"/>
<path d="M253.50 140.80V148.90M252.00 140.80H255.00M252.00 148.90H255.00" stroke="#111" stroke-width="1"/>
<circle cx="253.50" cy="144.80" r="1.5" fill="#111"/>
<path d="M264.00 141.50V149.00M262.50 141.50H265.50M262.50 149.00H265.50" stroke="#111" stroke-width="1"/>
<circle cx="264.00" cy="145.00" r="1.5" fill="#111"/>
<path d="M414.40 147.50V153.50M412.90 147.50H415.90M412.90 153.50H415.90" stroke="#111" stroke-width="1"/>
<circle cx="414.40" cy="152.00" r="1.5" fill="#111"/>
<rect x="1.5" y="1.5" width="517" height="395" fill="none" stroke="#dde8e8" stroke-width="1"/><rect x="0.5" y="0.5" width="519" height="397" fill="none" stroke="#617071" stroke-width="1"/>
</svg>
</div>
</body></html>
